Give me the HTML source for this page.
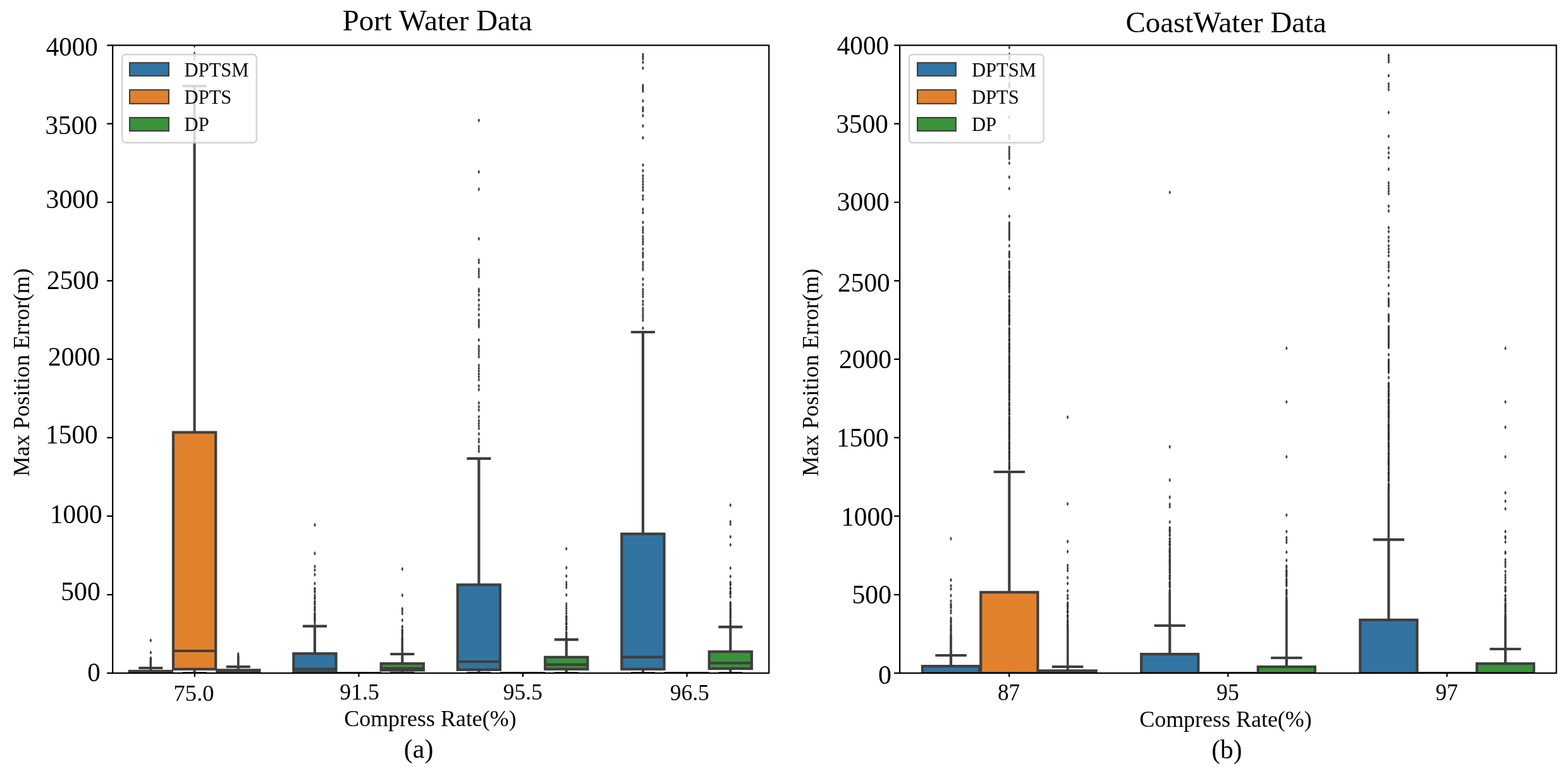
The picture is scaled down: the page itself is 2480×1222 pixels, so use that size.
<!DOCTYPE html>
<html lang="en"><head><meta charset="utf-8"><title>Max Position Error vs Compress Rate</title>
<style>html,body{margin:0;padding:0;background:#fff}svg{display:block}text{font-family:"Liberation Serif", "DejaVu Serif", serif;fill:#000}</style>
</head><body>
<svg xmlns="http://www.w3.org/2000/svg" width="2480" height="1222" viewBox="0 0 2480 1222">
<rect width="2480" height="1222" fill="#fff"/>
<g id="axes-a">
<clipPath id="clipA"><rect x="178.2" y="71.6" width="1038" height="992.5"/></clipPath>
<g clip-path="url(#clipA)">
<g stroke="#3f3f3f" stroke-width="4.17" stroke-linejoin="miter">
<rect x="204.79" y="1061" width="67.22" height="2.8" fill="#3274a1"/>
<rect x="273.99" y="683.5" width="67.22" height="374.3" fill="#e1812c"/>
<rect x="343.19" y="1059.3" width="67.22" height="4.5" fill="#3a923a"/>
<rect x="464.29" y="1033.2" width="67.22" height="29" fill="#3274a1"/>
<rect x="533.49" y="1064.1" width="67.22" height="0.01" fill="#e1812c"/>
<rect x="602.69" y="1049" width="67.22" height="10.6" fill="#3a923a"/>
<rect x="723.79" y="924.4" width="67.22" height="134.4" fill="#3274a1"/>
<rect x="792.99" y="1064.1" width="67.22" height="0.01" fill="#e1812c"/>
<rect x="862.19" y="1038.9" width="67.22" height="18.9" fill="#3a923a"/>
<rect x="983.29" y="844" width="67.22" height="213.8" fill="#3274a1"/>
<rect x="1052.49" y="1064.1" width="67.22" height="0.01" fill="#e1812c"/>
<rect x="1121.69" y="1030.2" width="67.22" height="26.8" fill="#3a923a"/>
</g>
<g stroke="#3f3f3f" stroke-width="4.17" fill="none">
<path d="M238.4 1063.8V1064.1M238.4 1061V1056"/>
<path stroke-linecap="square" d="M221.45 1064.1H255.35M221.45 1056H255.35"/>
<path d="M204.79 1062.6H272.01"/>
<path d="M307.6 1057.8V1064.1M307.6 683.5V136"/>
<path stroke-linecap="square" d="M290.65 1064.1H324.55M290.65 136H324.55"/>
<path d="M273.99 1029H341.21"/>
<path d="M376.8 1063.8V1064.1M376.8 1059.3V1054"/>
<path stroke-linecap="square" d="M359.85 1064.1H393.75M359.85 1054H393.75"/>
<path d="M343.19 1062H410.41"/>
<path d="M497.9 1062.2V1064.1M497.9 1033.2V989.9"/>
<path stroke-linecap="square" d="M480.95 1064.1H514.85M480.95 989.9H514.85"/>
<path d="M464.29 1057.5H531.51"/>
<path d="M567.1 1064.1V1064.1M567.1 1064.1V1064.1"/>
<path stroke-linecap="square" d="M550.15 1064.1H584.05M550.15 1064.1H584.05"/>
<path d="M533.49 1064.1H600.71"/>
<path d="M636.3 1059.6V1064.1M636.3 1049V1034"/>
<path stroke-linecap="square" d="M619.35 1064.1H653.25M619.35 1034H653.25"/>
<path d="M602.69 1056.5H669.91"/>
<path d="M757.4 1058.8V1064.1M757.4 924.4V724.9"/>
<path stroke-linecap="square" d="M740.45 1064.1H774.35M740.45 724.9H774.35"/>
<path d="M723.79 1046H791.01"/>
<path d="M826.6 1064.1V1064.1M826.6 1064.1V1064.1"/>
<path stroke-linecap="square" d="M809.65 1064.1H843.55M809.65 1064.1H843.55"/>
<path d="M792.99 1064.1H860.21"/>
<path d="M895.8 1057.8V1064.1M895.8 1038.9V1011.1"/>
<path stroke-linecap="square" d="M878.85 1064.1H912.75M878.85 1011.1H912.75"/>
<path d="M862.19 1050.7H929.41"/>
<path d="M1016.9 1057.8V1064.1M1016.9 844V525"/>
<path stroke-linecap="square" d="M999.95 1064.1H1033.85M999.95 525H1033.85"/>
<path d="M983.29 1038.8H1050.51"/>
<path d="M1086.1 1064.1V1064.1M1086.1 1064.1V1064.1"/>
<path stroke-linecap="square" d="M1069.15 1064.1H1103.05M1069.15 1064.1H1103.05"/>
<path d="M1052.49 1064.1H1119.71"/>
<path d="M1155.3 1057V1064.1M1155.3 1030.2V991.1"/>
<path stroke-linecap="square" d="M1138.35 1064.1H1172.25M1138.35 991.1H1172.25"/>
<path d="M1121.69 1048.2H1188.91"/>
</g>
<g stroke="#333" stroke-width="1.3" fill="none" stroke-linejoin="miter">
<path d="M238.4 1010.4l1.05 2l-1.05 2l-1.05 -2zM238.4 1029.6l1.05 2l-1.05 2l-1.05 -2zM238.4 1038.2l1.05 2l-1.05 2l-1.05 -2zM238.4 1039.7l1.05 2l-1.05 2l-1.05 -2zM238.4 1040l1.05 2l-1.05 2l-1.05 -2zM238.4 1040.3l1.05 2l-1.05 2l-1.05 -2zM238.4 1041.6l1.05 2l-1.05 2l-1.05 -2zM238.4 1043.4l1.05 2l-1.05 2l-1.05 -2zM238.4 1043.7l1.05 2l-1.05 2l-1.05 -2zM238.4 1044l1.05 2l-1.05 2l-1.05 -2zM238.4 1044.9l1.05 2l-1.05 2l-1.05 -2zM238.4 1045.8l1.05 2l-1.05 2l-1.05 -2zM238.4 1046.7l1.05 2l-1.05 2l-1.05 -2zM238.4 1047.6l1.05 2l-1.05 2l-1.05 -2zM238.4 1048.5l1.05 2l-1.05 2l-1.05 -2zM238.4 1049.4l1.05 2l-1.05 2l-1.05 -2zM238.4 1050.3l1.05 2l-1.05 2l-1.05 -2zM238.4 1051.2l1.05 2l-1.05 2l-1.05 -2z"/>
<path d="M307.6 70.6l1.05 2l-1.05 2l-1.05 -2zM307.6 82.5l1.05 2l-1.05 2l-1.05 -2zM307.6 87l1.05 2l-1.05 2l-1.05 -2zM307.6 91.5l1.05 2l-1.05 2l-1.05 -2z"/>
<path d="M376.8 1031.7l1.05 2l-1.05 2l-1.05 -2zM376.8 1033.9l1.05 2l-1.05 2l-1.05 -2zM376.8 1034.2l1.05 2l-1.05 2l-1.05 -2zM376.8 1034.5l1.05 2l-1.05 2l-1.05 -2zM376.8 1034.9l1.05 2l-1.05 2l-1.05 -2zM376.8 1035.3l1.05 2l-1.05 2l-1.05 -2zM376.8 1036.1l1.05 2l-1.05 2l-1.05 -2zM376.8 1036.4l1.05 2l-1.05 2l-1.05 -2zM376.8 1036.7l1.05 2l-1.05 2l-1.05 -2zM376.8 1037l1.05 2l-1.05 2l-1.05 -2zM376.8 1037.3l1.05 2l-1.05 2l-1.05 -2zM376.8 1037.6l1.05 2l-1.05 2l-1.05 -2zM376.8 1038l1.05 2l-1.05 2l-1.05 -2zM376.8 1038.9l1.05 2l-1.05 2l-1.05 -2zM376.8 1039.8l1.05 2l-1.05 2l-1.05 -2zM376.8 1040.7l1.05 2l-1.05 2l-1.05 -2zM376.8 1041.6l1.05 2l-1.05 2l-1.05 -2zM376.8 1042.5l1.05 2l-1.05 2l-1.05 -2zM376.8 1043.4l1.05 2l-1.05 2l-1.05 -2zM376.8 1044.3l1.05 2l-1.05 2l-1.05 -2zM376.8 1045.2l1.05 2l-1.05 2l-1.05 -2zM376.8 1046.1l1.05 2l-1.05 2l-1.05 -2zM376.8 1047l1.05 2l-1.05 2l-1.05 -2zM376.8 1047.9l1.05 2l-1.05 2l-1.05 -2zM376.8 1048.8l1.05 2l-1.05 2l-1.05 -2zM376.8 1049.7l1.05 2l-1.05 2l-1.05 -2z"/>
<path d="M497.9 827.9l1.05 2l-1.05 2l-1.05 -2zM497.9 872.8l1.05 2l-1.05 2l-1.05 -2zM497.9 893.5l1.05 2l-1.05 2l-1.05 -2zM497.9 899.1l1.05 2l-1.05 2l-1.05 -2zM497.9 906.4l1.05 2l-1.05 2l-1.05 -2zM497.9 920.5l1.05 2l-1.05 2l-1.05 -2zM497.9 928.4l1.05 2l-1.05 2l-1.05 -2zM497.9 930.4l1.05 2l-1.05 2l-1.05 -2zM497.9 932.9l1.05 2l-1.05 2l-1.05 -2zM497.9 933.8l1.05 2l-1.05 2l-1.05 -2zM497.9 938.9l1.05 2l-1.05 2l-1.05 -2zM497.9 942l1.05 2l-1.05 2l-1.05 -2zM497.9 942.5l1.05 2l-1.05 2l-1.05 -2zM497.9 944.5l1.05 2l-1.05 2l-1.05 -2zM497.9 948.8l1.05 2l-1.05 2l-1.05 -2zM497.9 949.4l1.05 2l-1.05 2l-1.05 -2zM497.9 950.1l1.05 2l-1.05 2l-1.05 -2zM497.9 952.6l1.05 2l-1.05 2l-1.05 -2zM497.9 953.6l1.05 2l-1.05 2l-1.05 -2zM497.9 957.2l1.05 2l-1.05 2l-1.05 -2zM497.9 958.7l1.05 2l-1.05 2l-1.05 -2zM497.9 960.9l1.05 2l-1.05 2l-1.05 -2zM497.9 962.3l1.05 2l-1.05 2l-1.05 -2zM497.9 962.8l1.05 2l-1.05 2l-1.05 -2zM497.9 963.3l1.05 2l-1.05 2l-1.05 -2zM497.9 967.2l1.05 2l-1.05 2l-1.05 -2zM497.9 968.6l1.05 2l-1.05 2l-1.05 -2zM497.9 969.2l1.05 2l-1.05 2l-1.05 -2zM497.9 969.5l1.05 2l-1.05 2l-1.05 -2zM497.9 970.1l1.05 2l-1.05 2l-1.05 -2zM497.9 971.6l1.05 2l-1.05 2l-1.05 -2zM497.9 972l1.05 2l-1.05 2l-1.05 -2zM497.9 973.1l1.05 2l-1.05 2l-1.05 -2zM497.9 974l1.05 2l-1.05 2l-1.05 -2zM497.9 975.2l1.05 2l-1.05 2l-1.05 -2zM497.9 975.5l1.05 2l-1.05 2l-1.05 -2zM497.9 976.5l1.05 2l-1.05 2l-1.05 -2zM497.9 977.6l1.05 2l-1.05 2l-1.05 -2zM497.9 978.7l1.05 2l-1.05 2l-1.05 -2zM497.9 979.9l1.05 2l-1.05 2l-1.05 -2zM497.9 981l1.05 2l-1.05 2l-1.05 -2zM497.9 984.2l1.05 2l-1.05 2l-1.05 -2z"/>
<path d="M636.3 897.5l1.05 2l-1.05 2l-1.05 -2zM636.3 939l1.05 2l-1.05 2l-1.05 -2zM636.3 960.5l1.05 2l-1.05 2l-1.05 -2zM636.3 964l1.05 2l-1.05 2l-1.05 -2zM636.3 967.8l1.05 2l-1.05 2l-1.05 -2zM636.3 978.6l1.05 2l-1.05 2l-1.05 -2zM636.3 988.5l1.05 2l-1.05 2l-1.05 -2zM636.3 989.6l1.05 2l-1.05 2l-1.05 -2zM636.3 993.6l1.05 2l-1.05 2l-1.05 -2zM636.3 994l1.05 2l-1.05 2l-1.05 -2zM636.3 994.5l1.05 2l-1.05 2l-1.05 -2zM636.3 996.4l1.05 2l-1.05 2l-1.05 -2zM636.3 997.9l1.05 2l-1.05 2l-1.05 -2zM636.3 998.6l1.05 2l-1.05 2l-1.05 -2zM636.3 998.9l1.05 2l-1.05 2l-1.05 -2zM636.3 1000.5l1.05 2l-1.05 2l-1.05 -2zM636.3 1003.2l1.05 2l-1.05 2l-1.05 -2zM636.3 1005.5l1.05 2l-1.05 2l-1.05 -2zM636.3 1006.8l1.05 2l-1.05 2l-1.05 -2zM636.3 1008l1.05 2l-1.05 2l-1.05 -2zM636.3 1008.9l1.05 2l-1.05 2l-1.05 -2zM636.3 1009.8l1.05 2l-1.05 2l-1.05 -2zM636.3 1010.7l1.05 2l-1.05 2l-1.05 -2zM636.3 1011.6l1.05 2l-1.05 2l-1.05 -2zM636.3 1012.5l1.05 2l-1.05 2l-1.05 -2zM636.3 1013.4l1.05 2l-1.05 2l-1.05 -2zM636.3 1014.3l1.05 2l-1.05 2l-1.05 -2zM636.3 1015.2l1.05 2l-1.05 2l-1.05 -2zM636.3 1016.1l1.05 2l-1.05 2l-1.05 -2zM636.3 1017l1.05 2l-1.05 2l-1.05 -2zM636.3 1017.9l1.05 2l-1.05 2l-1.05 -2zM636.3 1018.8l1.05 2l-1.05 2l-1.05 -2zM636.3 1019.7l1.05 2l-1.05 2l-1.05 -2zM636.3 1020.6l1.05 2l-1.05 2l-1.05 -2zM636.3 1021.5l1.05 2l-1.05 2l-1.05 -2zM636.3 1022.4l1.05 2l-1.05 2l-1.05 -2zM636.3 1023.3l1.05 2l-1.05 2l-1.05 -2zM636.3 1024.2l1.05 2l-1.05 2l-1.05 -2zM636.3 1025.1l1.05 2l-1.05 2l-1.05 -2zM636.3 1026l1.05 2l-1.05 2l-1.05 -2zM636.3 1026.9l1.05 2l-1.05 2l-1.05 -2zM636.3 1027.8l1.05 2l-1.05 2l-1.05 -2zM636.3 1028.7l1.05 2l-1.05 2l-1.05 -2zM636.3 1029.6l1.05 2l-1.05 2l-1.05 -2z"/>
<path d="M757.4 188.3l1.05 2l-1.05 2l-1.05 -2zM757.4 269.7l1.05 2l-1.05 2l-1.05 -2zM757.4 297.2l1.05 2l-1.05 2l-1.05 -2zM757.4 375.4l1.05 2l-1.05 2l-1.05 -2zM757.4 409.2l1.05 2l-1.05 2l-1.05 -2zM757.4 412.9l1.05 2l-1.05 2l-1.05 -2zM757.4 423.7l1.05 2l-1.05 2l-1.05 -2zM757.4 427.5l1.05 2l-1.05 2l-1.05 -2zM757.4 431.5l1.05 2l-1.05 2l-1.05 -2zM757.4 435.5l1.05 2l-1.05 2l-1.05 -2zM757.4 455.5l1.05 2l-1.05 2l-1.05 -2zM757.4 458.5l1.05 2l-1.05 2l-1.05 -2zM757.4 464.3l1.05 2l-1.05 2l-1.05 -2zM757.4 472.3l1.05 2l-1.05 2l-1.05 -2zM757.4 480.5l1.05 2l-1.05 2l-1.05 -2zM757.4 486.8l1.05 2l-1.05 2l-1.05 -2zM757.4 495.6l1.05 2l-1.05 2l-1.05 -2zM757.4 504.3l1.05 2l-1.05 2l-1.05 -2zM757.4 507.5l1.05 2l-1.05 2l-1.05 -2zM757.4 511l1.05 2l-1.05 2l-1.05 -2zM757.4 514.3l1.05 2l-1.05 2l-1.05 -2zM757.4 535.6l1.05 2l-1.05 2l-1.05 -2zM757.4 545.6l1.05 2l-1.05 2l-1.05 -2zM757.4 549.5l1.05 2l-1.05 2l-1.05 -2zM757.4 553.5l1.05 2l-1.05 2l-1.05 -2zM757.4 557.5l1.05 2l-1.05 2l-1.05 -2zM757.4 561.9l1.05 2l-1.05 2l-1.05 -2zM757.4 575.7l1.05 2l-1.05 2l-1.05 -2zM757.4 580l1.05 2l-1.05 2l-1.05 -2zM757.4 584.5l1.05 2l-1.05 2l-1.05 -2zM757.4 589l1.05 2l-1.05 2l-1.05 -2zM757.4 593.5l1.05 2l-1.05 2l-1.05 -2zM757.4 598.2l1.05 2l-1.05 2l-1.05 -2zM757.4 608.2l1.05 2l-1.05 2l-1.05 -2zM757.4 613.8l1.05 2l-1.05 2l-1.05 -2zM757.4 635l1.05 2l-1.05 2l-1.05 -2zM757.4 641.3l1.05 2l-1.05 2l-1.05 -2zM757.4 646.3l1.05 2l-1.05 2l-1.05 -2zM757.4 657.1l1.05 2l-1.05 2l-1.05 -2zM757.4 663.1l1.05 2l-1.05 2l-1.05 -2zM757.4 667l1.05 2l-1.05 2l-1.05 -2zM757.4 671l1.05 2l-1.05 2l-1.05 -2zM757.4 675.1l1.05 2l-1.05 2l-1.05 -2zM757.4 683.9l1.05 2l-1.05 2l-1.05 -2zM757.4 692.6l1.05 2l-1.05 2l-1.05 -2zM757.4 696.4l1.05 2l-1.05 2l-1.05 -2zM757.4 703.9l1.05 2l-1.05 2l-1.05 -2zM757.4 707.5l1.05 2l-1.05 2l-1.05 -2zM757.4 711.4l1.05 2l-1.05 2l-1.05 -2z"/>
<path d="M895.8 865.4l1.05 2l-1.05 2l-1.05 -2zM895.8 895.5l1.05 2l-1.05 2l-1.05 -2zM895.8 908.7l1.05 2l-1.05 2l-1.05 -2zM895.8 919l1.05 2l-1.05 2l-1.05 -2zM895.8 922.5l1.05 2l-1.05 2l-1.05 -2zM895.8 926.5l1.05 2l-1.05 2l-1.05 -2zM895.8 938.5l1.05 2l-1.05 2l-1.05 -2zM895.8 952.8l1.05 2l-1.05 2l-1.05 -2zM895.8 956.5l1.05 2l-1.05 2l-1.05 -2zM895.8 960l1.05 2l-1.05 2l-1.05 -2zM895.8 964l1.05 2l-1.05 2l-1.05 -2zM895.8 967.8l1.05 2l-1.05 2l-1.05 -2zM895.8 971.9l1.05 2l-1.05 2l-1.05 -2zM895.8 972.4l1.05 2l-1.05 2l-1.05 -2zM895.8 974.1l1.05 2l-1.05 2l-1.05 -2zM895.8 975.2l1.05 2l-1.05 2l-1.05 -2zM895.8 976.8l1.05 2l-1.05 2l-1.05 -2zM895.8 978.4l1.05 2l-1.05 2l-1.05 -2zM895.8 978.7l1.05 2l-1.05 2l-1.05 -2zM895.8 981.9l1.05 2l-1.05 2l-1.05 -2zM895.8 982.5l1.05 2l-1.05 2l-1.05 -2zM895.8 983.3l1.05 2l-1.05 2l-1.05 -2zM895.8 984.1l1.05 2l-1.05 2l-1.05 -2zM895.8 984.4l1.05 2l-1.05 2l-1.05 -2zM895.8 984.7l1.05 2l-1.05 2l-1.05 -2zM895.8 985.7l1.05 2l-1.05 2l-1.05 -2zM895.8 988.9l1.05 2l-1.05 2l-1.05 -2zM895.8 989.2l1.05 2l-1.05 2l-1.05 -2zM895.8 989.6l1.05 2l-1.05 2l-1.05 -2zM895.8 989.9l1.05 2l-1.05 2l-1.05 -2zM895.8 992.6l1.05 2l-1.05 2l-1.05 -2zM895.8 993.6l1.05 2l-1.05 2l-1.05 -2zM895.8 997.5l1.05 2l-1.05 2l-1.05 -2zM895.8 997.8l1.05 2l-1.05 2l-1.05 -2zM895.8 998.5l1.05 2l-1.05 2l-1.05 -2zM895.8 1000l1.05 2l-1.05 2l-1.05 -2zM895.8 1001.6l1.05 2l-1.05 2l-1.05 -2zM895.8 1002.8l1.05 2l-1.05 2l-1.05 -2zM895.8 1004.4l1.05 2l-1.05 2l-1.05 -2zM895.8 1004.9l1.05 2l-1.05 2l-1.05 -2zM895.8 1006.9l1.05 2l-1.05 2l-1.05 -2z"/>
<path d="M1016.9 84.4l1.05 2l-1.05 2l-1.05 -2zM1016.9 87.5l1.05 2l-1.05 2l-1.05 -2zM1016.9 90.7l1.05 2l-1.05 2l-1.05 -2zM1016.9 96.4l1.05 2l-1.05 2l-1.05 -2zM1016.9 105.7l1.05 2l-1.05 2l-1.05 -2zM1016.9 133.2l1.05 2l-1.05 2l-1.05 -2zM1016.9 136l1.05 2l-1.05 2l-1.05 -2zM1016.9 139l1.05 2l-1.05 2l-1.05 -2zM1016.9 142l1.05 2l-1.05 2l-1.05 -2zM1016.9 157.5l1.05 2l-1.05 2l-1.05 -2zM1016.9 168.3l1.05 2l-1.05 2l-1.05 -2zM1016.9 170.8l1.05 2l-1.05 2l-1.05 -2zM1016.9 173.3l1.05 2l-1.05 2l-1.05 -2zM1016.9 180.8l1.05 2l-1.05 2l-1.05 -2zM1016.9 197.1l1.05 2l-1.05 2l-1.05 -2zM1016.9 215.9l1.05 2l-1.05 2l-1.05 -2zM1016.9 258.9l1.05 2l-1.05 2l-1.05 -2zM1016.9 267.9l1.05 2l-1.05 2l-1.05 -2zM1016.9 276l1.05 2l-1.05 2l-1.05 -2zM1016.9 280.5l1.05 2l-1.05 2l-1.05 -2zM1016.9 285l1.05 2l-1.05 2l-1.05 -2zM1016.9 289.5l1.05 2l-1.05 2l-1.05 -2zM1016.9 294l1.05 2l-1.05 2l-1.05 -2zM1016.9 298.5l1.05 2l-1.05 2l-1.05 -2zM1016.9 307.8l1.05 2l-1.05 2l-1.05 -2zM1016.9 312.8l1.05 2l-1.05 2l-1.05 -2zM1016.9 329l1.05 2l-1.05 2l-1.05 -2zM1016.9 334l1.05 2l-1.05 2l-1.05 -2zM1016.9 349.6l1.05 2l-1.05 2l-1.05 -2zM1016.9 357.8l1.05 2l-1.05 2l-1.05 -2zM1016.9 361.5l1.05 2l-1.05 2l-1.05 -2zM1016.9 365.3l1.05 2l-1.05 2l-1.05 -2zM1016.9 372.1l1.05 2l-1.05 2l-1.05 -2zM1016.9 376l1.05 2l-1.05 2l-1.05 -2zM1016.9 380l1.05 2l-1.05 2l-1.05 -2zM1016.9 383.6l1.05 2l-1.05 2l-1.05 -2zM1016.9 391.6l1.05 2l-1.05 2l-1.05 -2zM1016.9 397.9l1.05 2l-1.05 2l-1.05 -2zM1016.9 401l1.05 2l-1.05 2l-1.05 -2zM1016.9 404.2l1.05 2l-1.05 2l-1.05 -2zM1016.9 412.9l1.05 2l-1.05 2l-1.05 -2zM1016.9 416.5l1.05 2l-1.05 2l-1.05 -2zM1016.9 420.5l1.05 2l-1.05 2l-1.05 -2zM1016.9 424.2l1.05 2l-1.05 2l-1.05 -2zM1016.9 439.2l1.05 2l-1.05 2l-1.05 -2zM1016.9 448l1.05 2l-1.05 2l-1.05 -2zM1016.9 455.5l1.05 2l-1.05 2l-1.05 -2zM1016.9 459.2l1.05 2l-1.05 2l-1.05 -2zM1016.9 463l1.05 2l-1.05 2l-1.05 -2zM1016.9 466.8l1.05 2l-1.05 2l-1.05 -2zM1016.9 474.3l1.05 2l-1.05 2l-1.05 -2zM1016.9 479.3l1.05 2l-1.05 2l-1.05 -2zM1016.9 485.5l1.05 2l-1.05 2l-1.05 -2zM1016.9 489.2l1.05 2l-1.05 2l-1.05 -2zM1016.9 493l1.05 2l-1.05 2l-1.05 -2zM1016.9 496.8l1.05 2l-1.05 2l-1.05 -2zM1016.9 500.5l1.05 2l-1.05 2l-1.05 -2zM1016.9 504.3l1.05 2l-1.05 2l-1.05 -2zM1016.9 516.8l1.05 2l-1.05 2l-1.05 -2z"/>
<path d="M1155.3 796.6l1.05 2l-1.05 2l-1.05 -2zM1155.3 822.8l1.05 2l-1.05 2l-1.05 -2zM1155.3 826.6l1.05 2l-1.05 2l-1.05 -2zM1155.3 846.6l1.05 2l-1.05 2l-1.05 -2zM1155.3 859.3l1.05 2l-1.05 2l-1.05 -2zM1155.3 896.2l1.05 2l-1.05 2l-1.05 -2zM1155.3 909.3l1.05 2l-1.05 2l-1.05 -2zM1155.3 918.9l1.05 2l-1.05 2l-1.05 -2zM1155.3 919.2l1.05 2l-1.05 2l-1.05 -2zM1155.3 921.6l1.05 2l-1.05 2l-1.05 -2zM1155.3 922l1.05 2l-1.05 2l-1.05 -2zM1155.3 922.7l1.05 2l-1.05 2l-1.05 -2zM1155.3 927.5l1.05 2l-1.05 2l-1.05 -2zM1155.3 928.5l1.05 2l-1.05 2l-1.05 -2zM1155.3 932.9l1.05 2l-1.05 2l-1.05 -2zM1155.3 934.5l1.05 2l-1.05 2l-1.05 -2zM1155.3 934.8l1.05 2l-1.05 2l-1.05 -2zM1155.3 936.4l1.05 2l-1.05 2l-1.05 -2zM1155.3 937.3l1.05 2l-1.05 2l-1.05 -2zM1155.3 941.3l1.05 2l-1.05 2l-1.05 -2zM1155.3 941.6l1.05 2l-1.05 2l-1.05 -2zM1155.3 950.6l1.05 2l-1.05 2l-1.05 -2zM1155.3 951.5l1.05 2l-1.05 2l-1.05 -2zM1155.3 952.9l1.05 2l-1.05 2l-1.05 -2zM1155.3 953.4l1.05 2l-1.05 2l-1.05 -2zM1155.3 955.4l1.05 2l-1.05 2l-1.05 -2zM1155.3 956.2l1.05 2l-1.05 2l-1.05 -2zM1155.3 957.2l1.05 2l-1.05 2l-1.05 -2zM1155.3 959.7l1.05 2l-1.05 2l-1.05 -2zM1155.3 960l1.05 2l-1.05 2l-1.05 -2zM1155.3 960.4l1.05 2l-1.05 2l-1.05 -2zM1155.3 960.9l1.05 2l-1.05 2l-1.05 -2zM1155.3 961.2l1.05 2l-1.05 2l-1.05 -2zM1155.3 962.8l1.05 2l-1.05 2l-1.05 -2zM1155.3 963.4l1.05 2l-1.05 2l-1.05 -2zM1155.3 964.8l1.05 2l-1.05 2l-1.05 -2zM1155.3 966.6l1.05 2l-1.05 2l-1.05 -2zM1155.3 967.3l1.05 2l-1.05 2l-1.05 -2zM1155.3 968.6l1.05 2l-1.05 2l-1.05 -2zM1155.3 969.3l1.05 2l-1.05 2l-1.05 -2zM1155.3 969.6l1.05 2l-1.05 2l-1.05 -2zM1155.3 969.9l1.05 2l-1.05 2l-1.05 -2zM1155.3 972l1.05 2l-1.05 2l-1.05 -2zM1155.3 972.5l1.05 2l-1.05 2l-1.05 -2zM1155.3 973.3l1.05 2l-1.05 2l-1.05 -2zM1155.3 973.7l1.05 2l-1.05 2l-1.05 -2zM1155.3 975l1.05 2l-1.05 2l-1.05 -2zM1155.3 975.7l1.05 2l-1.05 2l-1.05 -2zM1155.3 978.4l1.05 2l-1.05 2l-1.05 -2zM1155.3 979.1l1.05 2l-1.05 2l-1.05 -2zM1155.3 980l1.05 2l-1.05 2l-1.05 -2zM1155.3 981.5l1.05 2l-1.05 2l-1.05 -2zM1155.3 983l1.05 2l-1.05 2l-1.05 -2zM1155.3 984.3l1.05 2l-1.05 2l-1.05 -2zM1155.3 985.9l1.05 2l-1.05 2l-1.05 -2zM1155.3 986.4l1.05 2l-1.05 2l-1.05 -2z"/>
</g>
<path d="M238.4 1044.5V1055.5M376.8 1038.5V1053.5M636.3 1008.5V1033.5" stroke="#3f3f3f" stroke-width="3.3" fill="none"/>
</g>
<path d="M178.2 1064.1H169.2M178.2 940.04H169.2M178.2 815.97H169.2M178.2 691.91H169.2M178.2 567.85H169.2M178.2 443.79H169.2M178.2 319.73H169.2M178.2 195.66H169.2M178.2 71.6H169.2M307.95 1064.1V1070M567.45 1064.1V1070M826.95 1064.1V1070M1086.45 1064.1V1070" stroke="#000" stroke-width="2.2" fill="none"/>
<rect x="178.2" y="71.6" width="1038" height="992.5" fill="none" stroke="#000" stroke-width="2.2"/>
<rect x="193.2" y="86.1" width="212.6" height="139.5" rx="5.5" ry="5.5" fill="#fff" fill-opacity="0.8" stroke="#ccc" stroke-opacity="0.8" stroke-width="2.6"/>
<rect x="205.05" y="99.19" width="61.9" height="20.72" fill="#3274a1" stroke="#3f3f3f" stroke-width="2.08"/>
<rect x="205.05" y="142.14" width="61.9" height="21.72" fill="#e1812c" stroke="#3f3f3f" stroke-width="2.08"/>
<rect x="205.05" y="185.94" width="61.9" height="21.02" fill="#3a923a" stroke="#3f3f3f" stroke-width="2.08"/>
<text transform="translate(291.6 121.1) scale(1 1)" font-size="30.56">DPTSM</text>
<text transform="translate(291.6 164.1) scale(1 1)" font-size="30.56">DPTS</text>
<text transform="translate(291.6 207.3) scale(1 1)" font-size="30.56">DP</text>
</g>
<g id="axes-b">
<clipPath id="clipB"><rect x="1423.1" y="71.6" width="1038.5" height="992.5"/></clipPath>
<g clip-path="url(#clipB)">
<g stroke="#3f3f3f" stroke-width="4.17" stroke-linejoin="miter">
<rect x="1458.94" y="1053.1" width="90.16" height="11" fill="#3274a1"/>
<rect x="1551.25" y="936.3" width="90.16" height="127.8" fill="#e1812c"/>
<rect x="1643.56" y="1060.3" width="90.16" height="3.8" fill="#3a923a"/>
<rect x="1805.11" y="1034.1" width="90.16" height="30" fill="#3274a1"/>
<rect x="1897.42" y="1064.1" width="90.16" height="0.01" fill="#e1812c"/>
<rect x="1989.73" y="1054.1" width="90.16" height="10" fill="#3a923a"/>
<rect x="2151.27" y="980" width="90.16" height="84.1" fill="#3274a1"/>
<rect x="2243.58" y="1064.1" width="90.16" height="0.01" fill="#e1812c"/>
<rect x="2335.9" y="1049.1" width="90.16" height="15" fill="#3a923a"/>
</g>
<g stroke="#3f3f3f" stroke-width="4.17" fill="none">
<path d="M1504.02 1064.1V1064.1M1504.02 1053.1V1036"/>
<path stroke-linecap="square" d="M1481.41 1064.1H1526.64M1481.41 1036H1526.64"/>
<path d="M1458.94 1064.1H1549.1"/>
<path d="M1596.33 1064.1V1064.1M1596.33 936.3V746"/>
<path stroke-linecap="square" d="M1573.72 1064.1H1618.95M1573.72 746H1618.95"/>
<path d="M1551.25 1064.1H1641.42"/>
<path d="M1688.64 1064.1V1064.1M1688.64 1060.3V1054"/>
<path stroke-linecap="square" d="M1666.03 1064.1H1711.26M1666.03 1054H1711.26"/>
<path d="M1643.56 1064.1H1733.73"/>
<path d="M1850.19 1064.1V1064.1M1850.19 1034.1V989"/>
<path stroke-linecap="square" d="M1827.57 1064.1H1872.81M1827.57 989H1872.81"/>
<path d="M1805.11 1064.1H1895.27"/>
<path d="M1942.5 1064.1V1064.1M1942.5 1064.1V1064.1"/>
<path stroke-linecap="square" d="M1919.88 1064.1H1965.12M1919.88 1064.1H1965.12"/>
<path d="M1897.42 1064.1H1987.58"/>
<path d="M2034.81 1064.1V1064.1M2034.81 1054.1V1040"/>
<path stroke-linecap="square" d="M2012.19 1064.1H2057.43M2012.19 1040H2057.43"/>
<path d="M1989.73 1064.1H2079.89"/>
<path d="M2196.36 1064.1V1064.1M2196.36 980V853.1"/>
<path stroke-linecap="square" d="M2173.74 1064.1H2218.97M2173.74 853.1H2218.97"/>
<path d="M2151.27 1064.1H2241.44"/>
<path d="M2288.67 1064.1V1064.1M2288.67 1064.1V1064.1"/>
<path stroke-linecap="square" d="M2266.05 1064.1H2311.28M2266.05 1064.1H2311.28"/>
<path d="M2243.58 1064.1H2333.75"/>
<path d="M2380.98 1064.1V1064.1M2380.98 1049.1V1026"/>
<path stroke-linecap="square" d="M2358.36 1064.1H2403.59M2358.36 1026H2403.59"/>
<path d="M2335.9 1064.1H2426.06"/>
</g>
<g stroke="#333" stroke-width="1.3" fill="none" stroke-linejoin="miter">
<path d="M1504.02 849.6l1.05 2l-1.05 2l-1.05 -2zM1504.02 914.9l1.05 2l-1.05 2l-1.05 -2zM1504.02 924.1l1.05 2l-1.05 2l-1.05 -2zM1504.02 929l1.05 2l-1.05 2l-1.05 -2zM1504.02 939.5l1.05 2l-1.05 2l-1.05 -2zM1504.02 948.3l1.05 2l-1.05 2l-1.05 -2zM1504.02 953.1l1.05 2l-1.05 2l-1.05 -2zM1504.02 955.3l1.05 2l-1.05 2l-1.05 -2zM1504.02 955.6l1.05 2l-1.05 2l-1.05 -2zM1504.02 957.2l1.05 2l-1.05 2l-1.05 -2zM1504.02 958.2l1.05 2l-1.05 2l-1.05 -2zM1504.02 962.9l1.05 2l-1.05 2l-1.05 -2zM1504.02 966.7l1.05 2l-1.05 2l-1.05 -2zM1504.02 975.4l1.05 2l-1.05 2l-1.05 -2zM1504.02 975.7l1.05 2l-1.05 2l-1.05 -2zM1504.02 976.1l1.05 2l-1.05 2l-1.05 -2zM1504.02 978.1l1.05 2l-1.05 2l-1.05 -2zM1504.02 978.4l1.05 2l-1.05 2l-1.05 -2zM1504.02 979.6l1.05 2l-1.05 2l-1.05 -2zM1504.02 980.8l1.05 2l-1.05 2l-1.05 -2zM1504.02 981.1l1.05 2l-1.05 2l-1.05 -2zM1504.02 982.8l1.05 2l-1.05 2l-1.05 -2zM1504.02 986.1l1.05 2l-1.05 2l-1.05 -2zM1504.02 986.4l1.05 2l-1.05 2l-1.05 -2zM1504.02 986.7l1.05 2l-1.05 2l-1.05 -2zM1504.02 988.5l1.05 2l-1.05 2l-1.05 -2zM1504.02 989l1.05 2l-1.05 2l-1.05 -2zM1504.02 989.7l1.05 2l-1.05 2l-1.05 -2zM1504.02 991l1.05 2l-1.05 2l-1.05 -2zM1504.02 992.5l1.05 2l-1.05 2l-1.05 -2zM1504.02 993l1.05 2l-1.05 2l-1.05 -2zM1504.02 993.3l1.05 2l-1.05 2l-1.05 -2zM1504.02 993.7l1.05 2l-1.05 2l-1.05 -2zM1504.02 994.6l1.05 2l-1.05 2l-1.05 -2zM1504.02 995.7l1.05 2l-1.05 2l-1.05 -2zM1504.02 996.6l1.05 2l-1.05 2l-1.05 -2zM1504.02 998.6l1.05 2l-1.05 2l-1.05 -2zM1504.02 999.2l1.05 2l-1.05 2l-1.05 -2zM1504.02 1001.6l1.05 2l-1.05 2l-1.05 -2zM1504.02 1002l1.05 2l-1.05 2l-1.05 -2zM1504.02 1002.3l1.05 2l-1.05 2l-1.05 -2zM1504.02 1003l1.05 2l-1.05 2l-1.05 -2zM1504.02 1003.9l1.05 2l-1.05 2l-1.05 -2zM1504.02 1004.8l1.05 2l-1.05 2l-1.05 -2zM1504.02 1005.7l1.05 2l-1.05 2l-1.05 -2zM1504.02 1006.6l1.05 2l-1.05 2l-1.05 -2zM1504.02 1007.5l1.05 2l-1.05 2l-1.05 -2zM1504.02 1008.4l1.05 2l-1.05 2l-1.05 -2zM1504.02 1009.3l1.05 2l-1.05 2l-1.05 -2zM1504.02 1010.2l1.05 2l-1.05 2l-1.05 -2zM1504.02 1011.1l1.05 2l-1.05 2l-1.05 -2zM1504.02 1012l1.05 2l-1.05 2l-1.05 -2zM1504.02 1012.9l1.05 2l-1.05 2l-1.05 -2zM1504.02 1013.8l1.05 2l-1.05 2l-1.05 -2zM1504.02 1014.7l1.05 2l-1.05 2l-1.05 -2zM1504.02 1015.6l1.05 2l-1.05 2l-1.05 -2zM1504.02 1016.5l1.05 2l-1.05 2l-1.05 -2zM1504.02 1017.4l1.05 2l-1.05 2l-1.05 -2zM1504.02 1018.3l1.05 2l-1.05 2l-1.05 -2zM1504.02 1019.2l1.05 2l-1.05 2l-1.05 -2zM1504.02 1020.1l1.05 2l-1.05 2l-1.05 -2zM1504.02 1021l1.05 2l-1.05 2l-1.05 -2zM1504.02 1021.9l1.05 2l-1.05 2l-1.05 -2zM1504.02 1022.8l1.05 2l-1.05 2l-1.05 -2zM1504.02 1023.7l1.05 2l-1.05 2l-1.05 -2zM1504.02 1024.6l1.05 2l-1.05 2l-1.05 -2zM1504.02 1025.5l1.05 2l-1.05 2l-1.05 -2zM1504.02 1026.4l1.05 2l-1.05 2l-1.05 -2zM1504.02 1027.3l1.05 2l-1.05 2l-1.05 -2zM1504.02 1028.2l1.05 2l-1.05 2l-1.05 -2zM1504.02 1029.1l1.05 2l-1.05 2l-1.05 -2zM1504.02 1030l1.05 2l-1.05 2l-1.05 -2zM1504.02 1030.9l1.05 2l-1.05 2l-1.05 -2zM1504.02 1031.8l1.05 2l-1.05 2l-1.05 -2z"/>
<path d="M1596.33 73.1l1.05 2l-1.05 2l-1.05 -2zM1596.33 83.6l1.05 2l-1.05 2l-1.05 -2zM1596.33 87.4l1.05 2l-1.05 2l-1.05 -2zM1596.33 91.1l1.05 2l-1.05 2l-1.05 -2zM1596.33 120.6l1.05 2l-1.05 2l-1.05 -2zM1596.33 130l1.05 2l-1.05 2l-1.05 -2zM1596.33 133.1l1.05 2l-1.05 2l-1.05 -2zM1596.33 136.2l1.05 2l-1.05 2l-1.05 -2zM1596.33 158.1l1.05 2l-1.05 2l-1.05 -2zM1596.33 183.2l1.05 2l-1.05 2l-1.05 -2zM1596.33 212.6l1.05 2l-1.05 2l-1.05 -2zM1596.33 217l1.05 2l-1.05 2l-1.05 -2zM1596.33 231l1.05 2l-1.05 2l-1.05 -2zM1596.33 234.5l1.05 2l-1.05 2l-1.05 -2zM1596.33 238l1.05 2l-1.05 2l-1.05 -2zM1596.33 241.5l1.05 2l-1.05 2l-1.05 -2zM1596.33 245l1.05 2l-1.05 2l-1.05 -2zM1596.33 248.5l1.05 2l-1.05 2l-1.05 -2zM1596.33 255.9l1.05 2l-1.05 2l-1.05 -2zM1596.33 278l1.05 2l-1.05 2l-1.05 -2zM1596.33 296l1.05 2l-1.05 2l-1.05 -2zM1596.33 339.8l1.05 2l-1.05 2l-1.05 -2zM1596.33 350.5l1.05 2l-1.05 2l-1.05 -2zM1596.33 353.1l1.05 2l-1.05 2l-1.05 -2zM1596.33 355.7l1.05 2l-1.05 2l-1.05 -2zM1596.33 358.3l1.05 2l-1.05 2l-1.05 -2zM1596.33 360.9l1.05 2l-1.05 2l-1.05 -2zM1596.33 363.5l1.05 2l-1.05 2l-1.05 -2zM1596.33 366.1l1.05 2l-1.05 2l-1.05 -2zM1596.33 368.7l1.05 2l-1.05 2l-1.05 -2zM1596.33 371.3l1.05 2l-1.05 2l-1.05 -2zM1596.33 373.9l1.05 2l-1.05 2l-1.05 -2zM1596.33 376.5l1.05 2l-1.05 2l-1.05 -2zM1596.33 386.6l1.05 2l-1.05 2l-1.05 -2zM1596.33 396.5l1.05 2l-1.05 2l-1.05 -2zM1596.33 399l1.05 2l-1.05 2l-1.05 -2zM1596.33 401.5l1.05 2l-1.05 2l-1.05 -2zM1596.33 404l1.05 2l-1.05 2l-1.05 -2zM1596.33 411.5l1.05 2l-1.05 2l-1.05 -2zM1596.33 414l1.05 2l-1.05 2l-1.05 -2zM1596.33 416.5l1.05 2l-1.05 2l-1.05 -2zM1596.33 419l1.05 2l-1.05 2l-1.05 -2zM1596.33 421.5l1.05 2l-1.05 2l-1.05 -2zM1596.33 427.2l1.05 2l-1.05 2l-1.05 -2zM1596.33 428.7l1.05 2l-1.05 2l-1.05 -2zM1596.33 430l1.05 2l-1.05 2l-1.05 -2zM1596.33 432.1l1.05 2l-1.05 2l-1.05 -2zM1596.33 434.6l1.05 2l-1.05 2l-1.05 -2zM1596.33 434.9l1.05 2l-1.05 2l-1.05 -2zM1596.33 435.2l1.05 2l-1.05 2l-1.05 -2zM1596.33 436l1.05 2l-1.05 2l-1.05 -2zM1596.33 436.6l1.05 2l-1.05 2l-1.05 -2zM1596.33 437.5l1.05 2l-1.05 2l-1.05 -2zM1596.33 439l1.05 2l-1.05 2l-1.05 -2zM1596.33 439.5l1.05 2l-1.05 2l-1.05 -2zM1596.33 441.3l1.05 2l-1.05 2l-1.05 -2zM1596.33 442.3l1.05 2l-1.05 2l-1.05 -2zM1596.33 443.3l1.05 2l-1.05 2l-1.05 -2zM1596.33 443.6l1.05 2l-1.05 2l-1.05 -2zM1596.33 444.6l1.05 2l-1.05 2l-1.05 -2zM1596.33 444.9l1.05 2l-1.05 2l-1.05 -2zM1596.33 446.9l1.05 2l-1.05 2l-1.05 -2zM1596.33 447.2l1.05 2l-1.05 2l-1.05 -2zM1596.33 449l1.05 2l-1.05 2l-1.05 -2zM1596.33 450.2l1.05 2l-1.05 2l-1.05 -2zM1596.33 451l1.05 2l-1.05 2l-1.05 -2zM1596.33 452.1l1.05 2l-1.05 2l-1.05 -2zM1596.33 454.8l1.05 2l-1.05 2l-1.05 -2zM1596.33 457.4l1.05 2l-1.05 2l-1.05 -2zM1596.33 459.9l1.05 2l-1.05 2l-1.05 -2zM1596.33 466.3l1.05 2l-1.05 2l-1.05 -2zM1596.33 467.3l1.05 2l-1.05 2l-1.05 -2zM1596.33 472.2l1.05 2l-1.05 2l-1.05 -2zM1596.33 472.5l1.05 2l-1.05 2l-1.05 -2zM1596.33 472.9l1.05 2l-1.05 2l-1.05 -2zM1596.33 473.2l1.05 2l-1.05 2l-1.05 -2zM1596.33 474.4l1.05 2l-1.05 2l-1.05 -2zM1596.33 476.2l1.05 2l-1.05 2l-1.05 -2zM1596.33 476.5l1.05 2l-1.05 2l-1.05 -2zM1596.33 478.4l1.05 2l-1.05 2l-1.05 -2zM1596.33 478.7l1.05 2l-1.05 2l-1.05 -2zM1596.33 480l1.05 2l-1.05 2l-1.05 -2zM1596.33 480.6l1.05 2l-1.05 2l-1.05 -2zM1596.33 481.9l1.05 2l-1.05 2l-1.05 -2zM1596.33 482.8l1.05 2l-1.05 2l-1.05 -2zM1596.33 483.8l1.05 2l-1.05 2l-1.05 -2zM1596.33 484.5l1.05 2l-1.05 2l-1.05 -2zM1596.33 484.8l1.05 2l-1.05 2l-1.05 -2zM1596.33 485.1l1.05 2l-1.05 2l-1.05 -2zM1596.33 485.6l1.05 2l-1.05 2l-1.05 -2zM1596.33 487.1l1.05 2l-1.05 2l-1.05 -2zM1596.33 487.9l1.05 2l-1.05 2l-1.05 -2zM1596.33 489.7l1.05 2l-1.05 2l-1.05 -2zM1596.33 490.1l1.05 2l-1.05 2l-1.05 -2zM1596.33 491.6l1.05 2l-1.05 2l-1.05 -2zM1596.33 495.1l1.05 2l-1.05 2l-1.05 -2zM1596.33 495.4l1.05 2l-1.05 2l-1.05 -2zM1596.33 496.1l1.05 2l-1.05 2l-1.05 -2zM1596.33 496.7l1.05 2l-1.05 2l-1.05 -2zM1596.33 497.4l1.05 2l-1.05 2l-1.05 -2zM1596.33 497.7l1.05 2l-1.05 2l-1.05 -2zM1596.33 498.5l1.05 2l-1.05 2l-1.05 -2zM1596.33 499.4l1.05 2l-1.05 2l-1.05 -2zM1596.33 501.7l1.05 2l-1.05 2l-1.05 -2zM1596.33 502.1l1.05 2l-1.05 2l-1.05 -2zM1596.33 503.4l1.05 2l-1.05 2l-1.05 -2zM1596.33 503.7l1.05 2l-1.05 2l-1.05 -2zM1596.33 504.8l1.05 2l-1.05 2l-1.05 -2zM1596.33 505.2l1.05 2l-1.05 2l-1.05 -2zM1596.33 505.9l1.05 2l-1.05 2l-1.05 -2zM1596.33 506.6l1.05 2l-1.05 2l-1.05 -2zM1596.33 506.9l1.05 2l-1.05 2l-1.05 -2zM1596.33 507.9l1.05 2l-1.05 2l-1.05 -2zM1596.33 508.5l1.05 2l-1.05 2l-1.05 -2zM1596.33 509.3l1.05 2l-1.05 2l-1.05 -2zM1596.33 511.2l1.05 2l-1.05 2l-1.05 -2zM1596.33 517l1.05 2l-1.05 2l-1.05 -2zM1596.33 517.6l1.05 2l-1.05 2l-1.05 -2zM1596.33 518l1.05 2l-1.05 2l-1.05 -2zM1596.33 519.2l1.05 2l-1.05 2l-1.05 -2zM1596.33 521.3l1.05 2l-1.05 2l-1.05 -2zM1596.33 521.6l1.05 2l-1.05 2l-1.05 -2zM1596.33 522l1.05 2l-1.05 2l-1.05 -2zM1596.33 523.9l1.05 2l-1.05 2l-1.05 -2zM1596.33 524.9l1.05 2l-1.05 2l-1.05 -2zM1596.33 525.2l1.05 2l-1.05 2l-1.05 -2zM1596.33 525.9l1.05 2l-1.05 2l-1.05 -2zM1596.33 528.4l1.05 2l-1.05 2l-1.05 -2zM1596.33 530l1.05 2l-1.05 2l-1.05 -2zM1596.33 533l1.05 2l-1.05 2l-1.05 -2zM1596.33 534.2l1.05 2l-1.05 2l-1.05 -2zM1596.33 534.8l1.05 2l-1.05 2l-1.05 -2zM1596.33 535.4l1.05 2l-1.05 2l-1.05 -2zM1596.33 536.7l1.05 2l-1.05 2l-1.05 -2zM1596.33 537l1.05 2l-1.05 2l-1.05 -2zM1596.33 540.5l1.05 2l-1.05 2l-1.05 -2zM1596.33 541.7l1.05 2l-1.05 2l-1.05 -2zM1596.33 543.1l1.05 2l-1.05 2l-1.05 -2zM1596.33 543.4l1.05 2l-1.05 2l-1.05 -2zM1596.33 543.7l1.05 2l-1.05 2l-1.05 -2zM1596.33 544.2l1.05 2l-1.05 2l-1.05 -2zM1596.33 546.2l1.05 2l-1.05 2l-1.05 -2zM1596.33 546.5l1.05 2l-1.05 2l-1.05 -2zM1596.33 546.9l1.05 2l-1.05 2l-1.05 -2zM1596.33 548l1.05 2l-1.05 2l-1.05 -2zM1596.33 548.5l1.05 2l-1.05 2l-1.05 -2zM1596.33 549.5l1.05 2l-1.05 2l-1.05 -2zM1596.33 549.8l1.05 2l-1.05 2l-1.05 -2zM1596.33 550.1l1.05 2l-1.05 2l-1.05 -2zM1596.33 551.9l1.05 2l-1.05 2l-1.05 -2zM1596.33 552.2l1.05 2l-1.05 2l-1.05 -2zM1596.33 553.1l1.05 2l-1.05 2l-1.05 -2zM1596.33 553.4l1.05 2l-1.05 2l-1.05 -2zM1596.33 553.7l1.05 2l-1.05 2l-1.05 -2zM1596.33 554l1.05 2l-1.05 2l-1.05 -2zM1596.33 556.6l1.05 2l-1.05 2l-1.05 -2zM1596.33 559.7l1.05 2l-1.05 2l-1.05 -2zM1596.33 560l1.05 2l-1.05 2l-1.05 -2zM1596.33 562.1l1.05 2l-1.05 2l-1.05 -2zM1596.33 562.8l1.05 2l-1.05 2l-1.05 -2zM1596.33 563.7l1.05 2l-1.05 2l-1.05 -2zM1596.33 564l1.05 2l-1.05 2l-1.05 -2zM1596.33 565.6l1.05 2l-1.05 2l-1.05 -2zM1596.33 566.1l1.05 2l-1.05 2l-1.05 -2zM1596.33 566.4l1.05 2l-1.05 2l-1.05 -2zM1596.33 567.1l1.05 2l-1.05 2l-1.05 -2zM1596.33 568.8l1.05 2l-1.05 2l-1.05 -2zM1596.33 569.6l1.05 2l-1.05 2l-1.05 -2zM1596.33 570.9l1.05 2l-1.05 2l-1.05 -2zM1596.33 573.2l1.05 2l-1.05 2l-1.05 -2zM1596.33 575.7l1.05 2l-1.05 2l-1.05 -2zM1596.33 576.1l1.05 2l-1.05 2l-1.05 -2zM1596.33 576.4l1.05 2l-1.05 2l-1.05 -2zM1596.33 576.8l1.05 2l-1.05 2l-1.05 -2zM1596.33 577.1l1.05 2l-1.05 2l-1.05 -2zM1596.33 577.4l1.05 2l-1.05 2l-1.05 -2zM1596.33 577.7l1.05 2l-1.05 2l-1.05 -2zM1596.33 578l1.05 2l-1.05 2l-1.05 -2zM1596.33 578.8l1.05 2l-1.05 2l-1.05 -2zM1596.33 579.3l1.05 2l-1.05 2l-1.05 -2zM1596.33 580.5l1.05 2l-1.05 2l-1.05 -2zM1596.33 581l1.05 2l-1.05 2l-1.05 -2zM1596.33 581.3l1.05 2l-1.05 2l-1.05 -2zM1596.33 581.6l1.05 2l-1.05 2l-1.05 -2zM1596.33 582.4l1.05 2l-1.05 2l-1.05 -2zM1596.33 583.5l1.05 2l-1.05 2l-1.05 -2zM1596.33 584l1.05 2l-1.05 2l-1.05 -2zM1596.33 585.6l1.05 2l-1.05 2l-1.05 -2zM1596.33 586.4l1.05 2l-1.05 2l-1.05 -2zM1596.33 587.5l1.05 2l-1.05 2l-1.05 -2zM1596.33 588.7l1.05 2l-1.05 2l-1.05 -2zM1596.33 590l1.05 2l-1.05 2l-1.05 -2zM1596.33 591l1.05 2l-1.05 2l-1.05 -2zM1596.33 592.3l1.05 2l-1.05 2l-1.05 -2zM1596.33 592.7l1.05 2l-1.05 2l-1.05 -2zM1596.33 593.2l1.05 2l-1.05 2l-1.05 -2zM1596.33 593.7l1.05 2l-1.05 2l-1.05 -2zM1596.33 595l1.05 2l-1.05 2l-1.05 -2zM1596.33 595.3l1.05 2l-1.05 2l-1.05 -2zM1596.33 595.9l1.05 2l-1.05 2l-1.05 -2zM1596.33 596.5l1.05 2l-1.05 2l-1.05 -2zM1596.33 598.9l1.05 2l-1.05 2l-1.05 -2zM1596.33 599.2l1.05 2l-1.05 2l-1.05 -2zM1596.33 601.3l1.05 2l-1.05 2l-1.05 -2zM1596.33 602.1l1.05 2l-1.05 2l-1.05 -2zM1596.33 603.1l1.05 2l-1.05 2l-1.05 -2zM1596.33 605.2l1.05 2l-1.05 2l-1.05 -2zM1596.33 605.5l1.05 2l-1.05 2l-1.05 -2zM1596.33 605.8l1.05 2l-1.05 2l-1.05 -2zM1596.33 606.1l1.05 2l-1.05 2l-1.05 -2zM1596.33 606.4l1.05 2l-1.05 2l-1.05 -2zM1596.33 606.7l1.05 2l-1.05 2l-1.05 -2zM1596.33 607.1l1.05 2l-1.05 2l-1.05 -2zM1596.33 609.1l1.05 2l-1.05 2l-1.05 -2zM1596.33 609.9l1.05 2l-1.05 2l-1.05 -2zM1596.33 610.3l1.05 2l-1.05 2l-1.05 -2zM1596.33 611.2l1.05 2l-1.05 2l-1.05 -2zM1596.33 612.8l1.05 2l-1.05 2l-1.05 -2zM1596.33 613.1l1.05 2l-1.05 2l-1.05 -2zM1596.33 613.6l1.05 2l-1.05 2l-1.05 -2zM1596.33 613.9l1.05 2l-1.05 2l-1.05 -2zM1596.33 614.9l1.05 2l-1.05 2l-1.05 -2zM1596.33 615.2l1.05 2l-1.05 2l-1.05 -2zM1596.33 615.7l1.05 2l-1.05 2l-1.05 -2zM1596.33 616.3l1.05 2l-1.05 2l-1.05 -2zM1596.33 616.6l1.05 2l-1.05 2l-1.05 -2zM1596.33 616.9l1.05 2l-1.05 2l-1.05 -2zM1596.33 617.2l1.05 2l-1.05 2l-1.05 -2zM1596.33 617.6l1.05 2l-1.05 2l-1.05 -2zM1596.33 618.6l1.05 2l-1.05 2l-1.05 -2zM1596.33 619.5l1.05 2l-1.05 2l-1.05 -2zM1596.33 621.4l1.05 2l-1.05 2l-1.05 -2zM1596.33 621.7l1.05 2l-1.05 2l-1.05 -2zM1596.33 623.7l1.05 2l-1.05 2l-1.05 -2zM1596.33 625l1.05 2l-1.05 2l-1.05 -2zM1596.33 626.4l1.05 2l-1.05 2l-1.05 -2zM1596.33 628.4l1.05 2l-1.05 2l-1.05 -2zM1596.33 629.1l1.05 2l-1.05 2l-1.05 -2zM1596.33 629.4l1.05 2l-1.05 2l-1.05 -2zM1596.33 629.8l1.05 2l-1.05 2l-1.05 -2zM1596.33 630.1l1.05 2l-1.05 2l-1.05 -2zM1596.33 630.6l1.05 2l-1.05 2l-1.05 -2zM1596.33 634.2l1.05 2l-1.05 2l-1.05 -2zM1596.33 634.5l1.05 2l-1.05 2l-1.05 -2zM1596.33 634.9l1.05 2l-1.05 2l-1.05 -2zM1596.33 635.9l1.05 2l-1.05 2l-1.05 -2zM1596.33 636.2l1.05 2l-1.05 2l-1.05 -2zM1596.33 636.6l1.05 2l-1.05 2l-1.05 -2zM1596.33 637.2l1.05 2l-1.05 2l-1.05 -2zM1596.33 637.5l1.05 2l-1.05 2l-1.05 -2zM1596.33 638.9l1.05 2l-1.05 2l-1.05 -2zM1596.33 639.6l1.05 2l-1.05 2l-1.05 -2zM1596.33 642.4l1.05 2l-1.05 2l-1.05 -2zM1596.33 644l1.05 2l-1.05 2l-1.05 -2zM1596.33 644.4l1.05 2l-1.05 2l-1.05 -2zM1596.33 645l1.05 2l-1.05 2l-1.05 -2zM1596.33 646.2l1.05 2l-1.05 2l-1.05 -2zM1596.33 646.5l1.05 2l-1.05 2l-1.05 -2zM1596.33 646.9l1.05 2l-1.05 2l-1.05 -2zM1596.33 647.4l1.05 2l-1.05 2l-1.05 -2zM1596.33 648.1l1.05 2l-1.05 2l-1.05 -2zM1596.33 650.8l1.05 2l-1.05 2l-1.05 -2zM1596.33 651.1l1.05 2l-1.05 2l-1.05 -2zM1596.33 651.5l1.05 2l-1.05 2l-1.05 -2zM1596.33 651.9l1.05 2l-1.05 2l-1.05 -2zM1596.33 653.4l1.05 2l-1.05 2l-1.05 -2zM1596.33 657.1l1.05 2l-1.05 2l-1.05 -2zM1596.33 658.3l1.05 2l-1.05 2l-1.05 -2zM1596.33 658.6l1.05 2l-1.05 2l-1.05 -2zM1596.33 659l1.05 2l-1.05 2l-1.05 -2zM1596.33 660.3l1.05 2l-1.05 2l-1.05 -2zM1596.33 661l1.05 2l-1.05 2l-1.05 -2zM1596.33 661.7l1.05 2l-1.05 2l-1.05 -2zM1596.33 662.4l1.05 2l-1.05 2l-1.05 -2zM1596.33 664.3l1.05 2l-1.05 2l-1.05 -2zM1596.33 665.2l1.05 2l-1.05 2l-1.05 -2zM1596.33 666.1l1.05 2l-1.05 2l-1.05 -2zM1596.33 666.7l1.05 2l-1.05 2l-1.05 -2zM1596.33 667l1.05 2l-1.05 2l-1.05 -2zM1596.33 667.4l1.05 2l-1.05 2l-1.05 -2zM1596.33 667.9l1.05 2l-1.05 2l-1.05 -2zM1596.33 668.5l1.05 2l-1.05 2l-1.05 -2zM1596.33 668.8l1.05 2l-1.05 2l-1.05 -2zM1596.33 669.4l1.05 2l-1.05 2l-1.05 -2zM1596.33 670.1l1.05 2l-1.05 2l-1.05 -2zM1596.33 671.8l1.05 2l-1.05 2l-1.05 -2zM1596.33 673.1l1.05 2l-1.05 2l-1.05 -2zM1596.33 673.4l1.05 2l-1.05 2l-1.05 -2zM1596.33 673.7l1.05 2l-1.05 2l-1.05 -2zM1596.33 675.4l1.05 2l-1.05 2l-1.05 -2zM1596.33 675.7l1.05 2l-1.05 2l-1.05 -2zM1596.33 676.2l1.05 2l-1.05 2l-1.05 -2zM1596.33 676.8l1.05 2l-1.05 2l-1.05 -2zM1596.33 677.3l1.05 2l-1.05 2l-1.05 -2zM1596.33 678.7l1.05 2l-1.05 2l-1.05 -2zM1596.33 679.8l1.05 2l-1.05 2l-1.05 -2zM1596.33 680.3l1.05 2l-1.05 2l-1.05 -2zM1596.33 680.6l1.05 2l-1.05 2l-1.05 -2zM1596.33 681.9l1.05 2l-1.05 2l-1.05 -2zM1596.33 683.5l1.05 2l-1.05 2l-1.05 -2zM1596.33 683.8l1.05 2l-1.05 2l-1.05 -2zM1596.33 684.6l1.05 2l-1.05 2l-1.05 -2zM1596.33 685.1l1.05 2l-1.05 2l-1.05 -2zM1596.33 685.6l1.05 2l-1.05 2l-1.05 -2zM1596.33 686.3l1.05 2l-1.05 2l-1.05 -2zM1596.33 687.4l1.05 2l-1.05 2l-1.05 -2zM1596.33 688.4l1.05 2l-1.05 2l-1.05 -2zM1596.33 688.7l1.05 2l-1.05 2l-1.05 -2zM1596.33 689.6l1.05 2l-1.05 2l-1.05 -2zM1596.33 690.9l1.05 2l-1.05 2l-1.05 -2zM1596.33 691.2l1.05 2l-1.05 2l-1.05 -2zM1596.33 691.5l1.05 2l-1.05 2l-1.05 -2zM1596.33 692.9l1.05 2l-1.05 2l-1.05 -2zM1596.33 693.2l1.05 2l-1.05 2l-1.05 -2zM1596.33 695.7l1.05 2l-1.05 2l-1.05 -2zM1596.33 696l1.05 2l-1.05 2l-1.05 -2zM1596.33 696.3l1.05 2l-1.05 2l-1.05 -2zM1596.33 696.6l1.05 2l-1.05 2l-1.05 -2zM1596.33 697.9l1.05 2l-1.05 2l-1.05 -2zM1596.33 698.3l1.05 2l-1.05 2l-1.05 -2zM1596.33 699.4l1.05 2l-1.05 2l-1.05 -2zM1596.33 699.7l1.05 2l-1.05 2l-1.05 -2zM1596.33 700l1.05 2l-1.05 2l-1.05 -2zM1596.33 700.6l1.05 2l-1.05 2l-1.05 -2zM1596.33 700.9l1.05 2l-1.05 2l-1.05 -2zM1596.33 701.2l1.05 2l-1.05 2l-1.05 -2zM1596.33 701.5l1.05 2l-1.05 2l-1.05 -2zM1596.33 703.5l1.05 2l-1.05 2l-1.05 -2zM1596.33 705l1.05 2l-1.05 2l-1.05 -2zM1596.33 705.3l1.05 2l-1.05 2l-1.05 -2zM1596.33 705.6l1.05 2l-1.05 2l-1.05 -2zM1596.33 705.9l1.05 2l-1.05 2l-1.05 -2zM1596.33 706.2l1.05 2l-1.05 2l-1.05 -2zM1596.33 706.6l1.05 2l-1.05 2l-1.05 -2zM1596.33 707.8l1.05 2l-1.05 2l-1.05 -2zM1596.33 708.2l1.05 2l-1.05 2l-1.05 -2zM1596.33 710.5l1.05 2l-1.05 2l-1.05 -2zM1596.33 711.2l1.05 2l-1.05 2l-1.05 -2zM1596.33 711.6l1.05 2l-1.05 2l-1.05 -2zM1596.33 711.9l1.05 2l-1.05 2l-1.05 -2zM1596.33 712.6l1.05 2l-1.05 2l-1.05 -2zM1596.33 712.9l1.05 2l-1.05 2l-1.05 -2zM1596.33 713.9l1.05 2l-1.05 2l-1.05 -2zM1596.33 714.2l1.05 2l-1.05 2l-1.05 -2zM1596.33 714.9l1.05 2l-1.05 2l-1.05 -2zM1596.33 715.4l1.05 2l-1.05 2l-1.05 -2zM1596.33 715.7l1.05 2l-1.05 2l-1.05 -2zM1596.33 716l1.05 2l-1.05 2l-1.05 -2zM1596.33 717.1l1.05 2l-1.05 2l-1.05 -2zM1596.33 718.4l1.05 2l-1.05 2l-1.05 -2zM1596.33 718.7l1.05 2l-1.05 2l-1.05 -2zM1596.33 720l1.05 2l-1.05 2l-1.05 -2zM1596.33 720.4l1.05 2l-1.05 2l-1.05 -2zM1596.33 720.7l1.05 2l-1.05 2l-1.05 -2zM1596.33 721l1.05 2l-1.05 2l-1.05 -2zM1596.33 721.7l1.05 2l-1.05 2l-1.05 -2zM1596.33 723l1.05 2l-1.05 2l-1.05 -2zM1596.33 723.3l1.05 2l-1.05 2l-1.05 -2zM1596.33 724.2l1.05 2l-1.05 2l-1.05 -2zM1596.33 725.2l1.05 2l-1.05 2l-1.05 -2zM1596.33 728.5l1.05 2l-1.05 2l-1.05 -2zM1596.33 729.9l1.05 2l-1.05 2l-1.05 -2zM1596.33 731.2l1.05 2l-1.05 2l-1.05 -2zM1596.33 731.7l1.05 2l-1.05 2l-1.05 -2zM1596.33 732l1.05 2l-1.05 2l-1.05 -2zM1596.33 734.4l1.05 2l-1.05 2l-1.05 -2zM1596.33 735l1.05 2l-1.05 2l-1.05 -2zM1596.33 735.3l1.05 2l-1.05 2l-1.05 -2zM1596.33 735.6l1.05 2l-1.05 2l-1.05 -2zM1596.33 735.9l1.05 2l-1.05 2l-1.05 -2zM1596.33 736.2l1.05 2l-1.05 2l-1.05 -2zM1596.33 736.5l1.05 2l-1.05 2l-1.05 -2zM1596.33 737l1.05 2l-1.05 2l-1.05 -2zM1596.33 737.9l1.05 2l-1.05 2l-1.05 -2zM1596.33 738.3l1.05 2l-1.05 2l-1.05 -2zM1596.33 739.7l1.05 2l-1.05 2l-1.05 -2z"/>
<path d="M1688.64 657.6l1.05 2l-1.05 2l-1.05 -2zM1688.64 794.6l1.05 2l-1.05 2l-1.05 -2zM1688.64 854.1l1.05 2l-1.05 2l-1.05 -2zM1688.64 870.1l1.05 2l-1.05 2l-1.05 -2zM1688.64 891.9l1.05 2l-1.05 2l-1.05 -2zM1688.64 895.9l1.05 2l-1.05 2l-1.05 -2zM1688.64 899.9l1.05 2l-1.05 2l-1.05 -2zM1688.64 911.2l1.05 2l-1.05 2l-1.05 -2zM1688.64 920.4l1.05 2l-1.05 2l-1.05 -2zM1688.64 932.2l1.05 2l-1.05 2l-1.05 -2zM1688.64 939.3l1.05 2l-1.05 2l-1.05 -2zM1688.64 939.6l1.05 2l-1.05 2l-1.05 -2zM1688.64 943.9l1.05 2l-1.05 2l-1.05 -2zM1688.64 944.2l1.05 2l-1.05 2l-1.05 -2zM1688.64 951.2l1.05 2l-1.05 2l-1.05 -2zM1688.64 951.5l1.05 2l-1.05 2l-1.05 -2zM1688.64 953l1.05 2l-1.05 2l-1.05 -2zM1688.64 953.3l1.05 2l-1.05 2l-1.05 -2zM1688.64 955.2l1.05 2l-1.05 2l-1.05 -2zM1688.64 955.9l1.05 2l-1.05 2l-1.05 -2zM1688.64 956.2l1.05 2l-1.05 2l-1.05 -2zM1688.64 957.1l1.05 2l-1.05 2l-1.05 -2zM1688.64 957.4l1.05 2l-1.05 2l-1.05 -2zM1688.64 960.1l1.05 2l-1.05 2l-1.05 -2zM1688.64 963.2l1.05 2l-1.05 2l-1.05 -2zM1688.64 964.2l1.05 2l-1.05 2l-1.05 -2zM1688.64 965.3l1.05 2l-1.05 2l-1.05 -2zM1688.64 965.6l1.05 2l-1.05 2l-1.05 -2zM1688.64 966.2l1.05 2l-1.05 2l-1.05 -2zM1688.64 970.2l1.05 2l-1.05 2l-1.05 -2zM1688.64 971.8l1.05 2l-1.05 2l-1.05 -2zM1688.64 972.1l1.05 2l-1.05 2l-1.05 -2zM1688.64 972.6l1.05 2l-1.05 2l-1.05 -2zM1688.64 973l1.05 2l-1.05 2l-1.05 -2zM1688.64 973.8l1.05 2l-1.05 2l-1.05 -2zM1688.64 977.6l1.05 2l-1.05 2l-1.05 -2zM1688.64 979.9l1.05 2l-1.05 2l-1.05 -2zM1688.64 981l1.05 2l-1.05 2l-1.05 -2zM1688.64 981.3l1.05 2l-1.05 2l-1.05 -2zM1688.64 981.6l1.05 2l-1.05 2l-1.05 -2zM1688.64 982.2l1.05 2l-1.05 2l-1.05 -2zM1688.64 984.1l1.05 2l-1.05 2l-1.05 -2zM1688.64 984.9l1.05 2l-1.05 2l-1.05 -2zM1688.64 985.2l1.05 2l-1.05 2l-1.05 -2zM1688.64 985.5l1.05 2l-1.05 2l-1.05 -2zM1688.64 986.1l1.05 2l-1.05 2l-1.05 -2zM1688.64 987l1.05 2l-1.05 2l-1.05 -2zM1688.64 987.8l1.05 2l-1.05 2l-1.05 -2zM1688.64 988.6l1.05 2l-1.05 2l-1.05 -2zM1688.64 988.9l1.05 2l-1.05 2l-1.05 -2zM1688.64 989.2l1.05 2l-1.05 2l-1.05 -2zM1688.64 990l1.05 2l-1.05 2l-1.05 -2zM1688.64 990.9l1.05 2l-1.05 2l-1.05 -2zM1688.64 991.8l1.05 2l-1.05 2l-1.05 -2zM1688.64 992.7l1.05 2l-1.05 2l-1.05 -2zM1688.64 993.6l1.05 2l-1.05 2l-1.05 -2zM1688.64 994.5l1.05 2l-1.05 2l-1.05 -2zM1688.64 995.4l1.05 2l-1.05 2l-1.05 -2zM1688.64 996.3l1.05 2l-1.05 2l-1.05 -2zM1688.64 997.2l1.05 2l-1.05 2l-1.05 -2zM1688.64 998.1l1.05 2l-1.05 2l-1.05 -2zM1688.64 999l1.05 2l-1.05 2l-1.05 -2zM1688.64 999.9l1.05 2l-1.05 2l-1.05 -2zM1688.64 1000.8l1.05 2l-1.05 2l-1.05 -2zM1688.64 1001.7l1.05 2l-1.05 2l-1.05 -2zM1688.64 1002.6l1.05 2l-1.05 2l-1.05 -2zM1688.64 1003.5l1.05 2l-1.05 2l-1.05 -2zM1688.64 1004.4l1.05 2l-1.05 2l-1.05 -2zM1688.64 1005.3l1.05 2l-1.05 2l-1.05 -2zM1688.64 1006.2l1.05 2l-1.05 2l-1.05 -2zM1688.64 1007.1l1.05 2l-1.05 2l-1.05 -2zM1688.64 1008l1.05 2l-1.05 2l-1.05 -2zM1688.64 1008.9l1.05 2l-1.05 2l-1.05 -2zM1688.64 1009.8l1.05 2l-1.05 2l-1.05 -2zM1688.64 1010.7l1.05 2l-1.05 2l-1.05 -2zM1688.64 1011.6l1.05 2l-1.05 2l-1.05 -2zM1688.64 1012.5l1.05 2l-1.05 2l-1.05 -2zM1688.64 1013.4l1.05 2l-1.05 2l-1.05 -2zM1688.64 1014.3l1.05 2l-1.05 2l-1.05 -2zM1688.64 1015.2l1.05 2l-1.05 2l-1.05 -2zM1688.64 1016.1l1.05 2l-1.05 2l-1.05 -2zM1688.64 1017l1.05 2l-1.05 2l-1.05 -2zM1688.64 1017.9l1.05 2l-1.05 2l-1.05 -2zM1688.64 1018.8l1.05 2l-1.05 2l-1.05 -2zM1688.64 1019.7l1.05 2l-1.05 2l-1.05 -2zM1688.64 1020.6l1.05 2l-1.05 2l-1.05 -2zM1688.64 1021.5l1.05 2l-1.05 2l-1.05 -2zM1688.64 1022.4l1.05 2l-1.05 2l-1.05 -2zM1688.64 1023.3l1.05 2l-1.05 2l-1.05 -2zM1688.64 1024.2l1.05 2l-1.05 2l-1.05 -2zM1688.64 1025.1l1.05 2l-1.05 2l-1.05 -2zM1688.64 1026l1.05 2l-1.05 2l-1.05 -2zM1688.64 1026.9l1.05 2l-1.05 2l-1.05 -2zM1688.64 1027.8l1.05 2l-1.05 2l-1.05 -2zM1688.64 1028.7l1.05 2l-1.05 2l-1.05 -2zM1688.64 1029.6l1.05 2l-1.05 2l-1.05 -2zM1688.64 1030.5l1.05 2l-1.05 2l-1.05 -2zM1688.64 1031.4l1.05 2l-1.05 2l-1.05 -2zM1688.64 1032.3l1.05 2l-1.05 2l-1.05 -2zM1688.64 1033.2l1.05 2l-1.05 2l-1.05 -2zM1688.64 1034.1l1.05 2l-1.05 2l-1.05 -2zM1688.64 1035l1.05 2l-1.05 2l-1.05 -2zM1688.64 1035.9l1.05 2l-1.05 2l-1.05 -2zM1688.64 1036.8l1.05 2l-1.05 2l-1.05 -2zM1688.64 1037.7l1.05 2l-1.05 2l-1.05 -2zM1688.64 1038.6l1.05 2l-1.05 2l-1.05 -2zM1688.64 1039.5l1.05 2l-1.05 2l-1.05 -2zM1688.64 1040.4l1.05 2l-1.05 2l-1.05 -2zM1688.64 1041.3l1.05 2l-1.05 2l-1.05 -2zM1688.64 1042.2l1.05 2l-1.05 2l-1.05 -2zM1688.64 1043.1l1.05 2l-1.05 2l-1.05 -2zM1688.64 1044l1.05 2l-1.05 2l-1.05 -2zM1688.64 1044.9l1.05 2l-1.05 2l-1.05 -2zM1688.64 1045.8l1.05 2l-1.05 2l-1.05 -2zM1688.64 1046.7l1.05 2l-1.05 2l-1.05 -2zM1688.64 1047.6l1.05 2l-1.05 2l-1.05 -2zM1688.64 1048.5l1.05 2l-1.05 2l-1.05 -2zM1688.64 1049.4l1.05 2l-1.05 2l-1.05 -2z"/>
<path d="M1850.19 302.2l1.05 2l-1.05 2l-1.05 -2zM1850.19 704.4l1.05 2l-1.05 2l-1.05 -2zM1850.19 757l1.05 2l-1.05 2l-1.05 -2zM1850.19 784l1.05 2l-1.05 2l-1.05 -2zM1850.19 795.3l1.05 2l-1.05 2l-1.05 -2zM1850.19 799l1.05 2l-1.05 2l-1.05 -2zM1850.19 823.3l1.05 2l-1.05 2l-1.05 -2zM1850.19 832.2l1.05 2l-1.05 2l-1.05 -2zM1850.19 834.2l1.05 2l-1.05 2l-1.05 -2zM1850.19 835.8l1.05 2l-1.05 2l-1.05 -2zM1850.19 836.4l1.05 2l-1.05 2l-1.05 -2zM1850.19 836.7l1.05 2l-1.05 2l-1.05 -2zM1850.19 837l1.05 2l-1.05 2l-1.05 -2zM1850.19 839.6l1.05 2l-1.05 2l-1.05 -2zM1850.19 843.1l1.05 2l-1.05 2l-1.05 -2zM1850.19 844.6l1.05 2l-1.05 2l-1.05 -2zM1850.19 849.6l1.05 2l-1.05 2l-1.05 -2zM1850.19 850.4l1.05 2l-1.05 2l-1.05 -2zM1850.19 853.5l1.05 2l-1.05 2l-1.05 -2zM1850.19 854.7l1.05 2l-1.05 2l-1.05 -2zM1850.19 855.3l1.05 2l-1.05 2l-1.05 -2zM1850.19 857.3l1.05 2l-1.05 2l-1.05 -2zM1850.19 857.9l1.05 2l-1.05 2l-1.05 -2zM1850.19 858.7l1.05 2l-1.05 2l-1.05 -2zM1850.19 859l1.05 2l-1.05 2l-1.05 -2zM1850.19 859.7l1.05 2l-1.05 2l-1.05 -2zM1850.19 860.4l1.05 2l-1.05 2l-1.05 -2zM1850.19 864l1.05 2l-1.05 2l-1.05 -2zM1850.19 865.6l1.05 2l-1.05 2l-1.05 -2zM1850.19 867.2l1.05 2l-1.05 2l-1.05 -2zM1850.19 867.5l1.05 2l-1.05 2l-1.05 -2zM1850.19 868l1.05 2l-1.05 2l-1.05 -2zM1850.19 868.5l1.05 2l-1.05 2l-1.05 -2zM1850.19 868.8l1.05 2l-1.05 2l-1.05 -2zM1850.19 869.1l1.05 2l-1.05 2l-1.05 -2zM1850.19 869.4l1.05 2l-1.05 2l-1.05 -2zM1850.19 869.7l1.05 2l-1.05 2l-1.05 -2zM1850.19 870.8l1.05 2l-1.05 2l-1.05 -2zM1850.19 872.3l1.05 2l-1.05 2l-1.05 -2zM1850.19 872.6l1.05 2l-1.05 2l-1.05 -2zM1850.19 874l1.05 2l-1.05 2l-1.05 -2zM1850.19 876.3l1.05 2l-1.05 2l-1.05 -2zM1850.19 876.8l1.05 2l-1.05 2l-1.05 -2zM1850.19 877.1l1.05 2l-1.05 2l-1.05 -2zM1850.19 877.4l1.05 2l-1.05 2l-1.05 -2zM1850.19 878.5l1.05 2l-1.05 2l-1.05 -2zM1850.19 881l1.05 2l-1.05 2l-1.05 -2zM1850.19 881.4l1.05 2l-1.05 2l-1.05 -2zM1850.19 883.3l1.05 2l-1.05 2l-1.05 -2zM1850.19 884.2l1.05 2l-1.05 2l-1.05 -2zM1850.19 884.5l1.05 2l-1.05 2l-1.05 -2zM1850.19 884.8l1.05 2l-1.05 2l-1.05 -2zM1850.19 885.8l1.05 2l-1.05 2l-1.05 -2zM1850.19 886.5l1.05 2l-1.05 2l-1.05 -2zM1850.19 887.4l1.05 2l-1.05 2l-1.05 -2zM1850.19 888l1.05 2l-1.05 2l-1.05 -2zM1850.19 889.1l1.05 2l-1.05 2l-1.05 -2zM1850.19 889.5l1.05 2l-1.05 2l-1.05 -2zM1850.19 890l1.05 2l-1.05 2l-1.05 -2zM1850.19 892l1.05 2l-1.05 2l-1.05 -2zM1850.19 892.7l1.05 2l-1.05 2l-1.05 -2zM1850.19 893.8l1.05 2l-1.05 2l-1.05 -2zM1850.19 894.2l1.05 2l-1.05 2l-1.05 -2zM1850.19 896.3l1.05 2l-1.05 2l-1.05 -2zM1850.19 896.6l1.05 2l-1.05 2l-1.05 -2zM1850.19 898.1l1.05 2l-1.05 2l-1.05 -2zM1850.19 898.7l1.05 2l-1.05 2l-1.05 -2zM1850.19 899l1.05 2l-1.05 2l-1.05 -2zM1850.19 899.4l1.05 2l-1.05 2l-1.05 -2zM1850.19 900.2l1.05 2l-1.05 2l-1.05 -2zM1850.19 902.5l1.05 2l-1.05 2l-1.05 -2zM1850.19 902.8l1.05 2l-1.05 2l-1.05 -2zM1850.19 903.1l1.05 2l-1.05 2l-1.05 -2zM1850.19 903.4l1.05 2l-1.05 2l-1.05 -2zM1850.19 903.8l1.05 2l-1.05 2l-1.05 -2zM1850.19 906.8l1.05 2l-1.05 2l-1.05 -2zM1850.19 907.2l1.05 2l-1.05 2l-1.05 -2zM1850.19 907.5l1.05 2l-1.05 2l-1.05 -2zM1850.19 908.7l1.05 2l-1.05 2l-1.05 -2zM1850.19 910.2l1.05 2l-1.05 2l-1.05 -2zM1850.19 911.2l1.05 2l-1.05 2l-1.05 -2zM1850.19 912.3l1.05 2l-1.05 2l-1.05 -2zM1850.19 913.6l1.05 2l-1.05 2l-1.05 -2zM1850.19 914l1.05 2l-1.05 2l-1.05 -2zM1850.19 917.8l1.05 2l-1.05 2l-1.05 -2zM1850.19 918.9l1.05 2l-1.05 2l-1.05 -2zM1850.19 919.5l1.05 2l-1.05 2l-1.05 -2zM1850.19 920.2l1.05 2l-1.05 2l-1.05 -2zM1850.19 920.5l1.05 2l-1.05 2l-1.05 -2zM1850.19 921.5l1.05 2l-1.05 2l-1.05 -2zM1850.19 922.5l1.05 2l-1.05 2l-1.05 -2zM1850.19 922.8l1.05 2l-1.05 2l-1.05 -2zM1850.19 923.9l1.05 2l-1.05 2l-1.05 -2zM1850.19 924.2l1.05 2l-1.05 2l-1.05 -2zM1850.19 924.5l1.05 2l-1.05 2l-1.05 -2zM1850.19 925.2l1.05 2l-1.05 2l-1.05 -2zM1850.19 925.9l1.05 2l-1.05 2l-1.05 -2zM1850.19 926.2l1.05 2l-1.05 2l-1.05 -2zM1850.19 930.4l1.05 2l-1.05 2l-1.05 -2zM1850.19 931l1.05 2l-1.05 2l-1.05 -2zM1850.19 932.6l1.05 2l-1.05 2l-1.05 -2zM1850.19 932.9l1.05 2l-1.05 2l-1.05 -2zM1850.19 933.5l1.05 2l-1.05 2l-1.05 -2zM1850.19 935l1.05 2l-1.05 2l-1.05 -2zM1850.19 935.9l1.05 2l-1.05 2l-1.05 -2zM1850.19 936.8l1.05 2l-1.05 2l-1.05 -2zM1850.19 937.7l1.05 2l-1.05 2l-1.05 -2zM1850.19 938.6l1.05 2l-1.05 2l-1.05 -2zM1850.19 939.5l1.05 2l-1.05 2l-1.05 -2zM1850.19 940.4l1.05 2l-1.05 2l-1.05 -2zM1850.19 941.3l1.05 2l-1.05 2l-1.05 -2zM1850.19 942.2l1.05 2l-1.05 2l-1.05 -2zM1850.19 943.1l1.05 2l-1.05 2l-1.05 -2zM1850.19 944l1.05 2l-1.05 2l-1.05 -2zM1850.19 944.9l1.05 2l-1.05 2l-1.05 -2zM1850.19 945.8l1.05 2l-1.05 2l-1.05 -2zM1850.19 946.7l1.05 2l-1.05 2l-1.05 -2zM1850.19 947.6l1.05 2l-1.05 2l-1.05 -2zM1850.19 948.5l1.05 2l-1.05 2l-1.05 -2zM1850.19 949.4l1.05 2l-1.05 2l-1.05 -2zM1850.19 950.3l1.05 2l-1.05 2l-1.05 -2zM1850.19 951.2l1.05 2l-1.05 2l-1.05 -2zM1850.19 952.1l1.05 2l-1.05 2l-1.05 -2zM1850.19 953l1.05 2l-1.05 2l-1.05 -2zM1850.19 953.9l1.05 2l-1.05 2l-1.05 -2zM1850.19 954.8l1.05 2l-1.05 2l-1.05 -2zM1850.19 955.7l1.05 2l-1.05 2l-1.05 -2zM1850.19 956.6l1.05 2l-1.05 2l-1.05 -2zM1850.19 957.5l1.05 2l-1.05 2l-1.05 -2zM1850.19 958.4l1.05 2l-1.05 2l-1.05 -2zM1850.19 959.3l1.05 2l-1.05 2l-1.05 -2zM1850.19 960.2l1.05 2l-1.05 2l-1.05 -2zM1850.19 961.1l1.05 2l-1.05 2l-1.05 -2zM1850.19 962l1.05 2l-1.05 2l-1.05 -2zM1850.19 962.9l1.05 2l-1.05 2l-1.05 -2zM1850.19 963.8l1.05 2l-1.05 2l-1.05 -2zM1850.19 964.7l1.05 2l-1.05 2l-1.05 -2zM1850.19 965.6l1.05 2l-1.05 2l-1.05 -2zM1850.19 966.5l1.05 2l-1.05 2l-1.05 -2zM1850.19 967.4l1.05 2l-1.05 2l-1.05 -2zM1850.19 968.3l1.05 2l-1.05 2l-1.05 -2zM1850.19 969.2l1.05 2l-1.05 2l-1.05 -2zM1850.19 970.1l1.05 2l-1.05 2l-1.05 -2zM1850.19 971l1.05 2l-1.05 2l-1.05 -2zM1850.19 971.9l1.05 2l-1.05 2l-1.05 -2zM1850.19 972.8l1.05 2l-1.05 2l-1.05 -2zM1850.19 973.7l1.05 2l-1.05 2l-1.05 -2zM1850.19 974.6l1.05 2l-1.05 2l-1.05 -2zM1850.19 975.5l1.05 2l-1.05 2l-1.05 -2zM1850.19 976.4l1.05 2l-1.05 2l-1.05 -2zM1850.19 977.3l1.05 2l-1.05 2l-1.05 -2zM1850.19 978.2l1.05 2l-1.05 2l-1.05 -2zM1850.19 979.1l1.05 2l-1.05 2l-1.05 -2zM1850.19 980l1.05 2l-1.05 2l-1.05 -2zM1850.19 980.9l1.05 2l-1.05 2l-1.05 -2zM1850.19 981.8l1.05 2l-1.05 2l-1.05 -2zM1850.19 982.7l1.05 2l-1.05 2l-1.05 -2zM1850.19 983.6l1.05 2l-1.05 2l-1.05 -2zM1850.19 984.5l1.05 2l-1.05 2l-1.05 -2z"/>
<path d="M2034.81 548.6l1.05 2l-1.05 2l-1.05 -2zM2034.81 633.3l1.05 2l-1.05 2l-1.05 -2zM2034.81 720.2l1.05 2l-1.05 2l-1.05 -2zM2034.81 812.3l1.05 2l-1.05 2l-1.05 -2zM2034.81 838.4l1.05 2l-1.05 2l-1.05 -2zM2034.81 847.9l1.05 2l-1.05 2l-1.05 -2zM2034.81 851.6l1.05 2l-1.05 2l-1.05 -2zM2034.81 855.4l1.05 2l-1.05 2l-1.05 -2zM2034.81 870.9l1.05 2l-1.05 2l-1.05 -2zM2034.81 883.8l1.05 2l-1.05 2l-1.05 -2zM2034.81 892.7l1.05 2l-1.05 2l-1.05 -2zM2034.81 895.5l1.05 2l-1.05 2l-1.05 -2zM2034.81 899.2l1.05 2l-1.05 2l-1.05 -2zM2034.81 900.7l1.05 2l-1.05 2l-1.05 -2zM2034.81 901.8l1.05 2l-1.05 2l-1.05 -2zM2034.81 902.6l1.05 2l-1.05 2l-1.05 -2zM2034.81 904.7l1.05 2l-1.05 2l-1.05 -2zM2034.81 905.6l1.05 2l-1.05 2l-1.05 -2zM2034.81 906.2l1.05 2l-1.05 2l-1.05 -2zM2034.81 908l1.05 2l-1.05 2l-1.05 -2zM2034.81 908.5l1.05 2l-1.05 2l-1.05 -2zM2034.81 908.8l1.05 2l-1.05 2l-1.05 -2zM2034.81 912.8l1.05 2l-1.05 2l-1.05 -2zM2034.81 915.2l1.05 2l-1.05 2l-1.05 -2zM2034.81 915.8l1.05 2l-1.05 2l-1.05 -2zM2034.81 917.5l1.05 2l-1.05 2l-1.05 -2zM2034.81 918.9l1.05 2l-1.05 2l-1.05 -2zM2034.81 919.9l1.05 2l-1.05 2l-1.05 -2zM2034.81 921.8l1.05 2l-1.05 2l-1.05 -2zM2034.81 922.1l1.05 2l-1.05 2l-1.05 -2zM2034.81 923.6l1.05 2l-1.05 2l-1.05 -2zM2034.81 924l1.05 2l-1.05 2l-1.05 -2zM2034.81 930.6l1.05 2l-1.05 2l-1.05 -2zM2034.81 931l1.05 2l-1.05 2l-1.05 -2zM2034.81 932l1.05 2l-1.05 2l-1.05 -2zM2034.81 933.7l1.05 2l-1.05 2l-1.05 -2zM2034.81 934.7l1.05 2l-1.05 2l-1.05 -2zM2034.81 935.5l1.05 2l-1.05 2l-1.05 -2zM2034.81 936l1.05 2l-1.05 2l-1.05 -2zM2034.81 936.4l1.05 2l-1.05 2l-1.05 -2zM2034.81 936.7l1.05 2l-1.05 2l-1.05 -2zM2034.81 937l1.05 2l-1.05 2l-1.05 -2zM2034.81 938.6l1.05 2l-1.05 2l-1.05 -2zM2034.81 942l1.05 2l-1.05 2l-1.05 -2zM2034.81 942.5l1.05 2l-1.05 2l-1.05 -2zM2034.81 942.8l1.05 2l-1.05 2l-1.05 -2zM2034.81 943.1l1.05 2l-1.05 2l-1.05 -2zM2034.81 945l1.05 2l-1.05 2l-1.05 -2zM2034.81 945.3l1.05 2l-1.05 2l-1.05 -2zM2034.81 945.7l1.05 2l-1.05 2l-1.05 -2zM2034.81 946.3l1.05 2l-1.05 2l-1.05 -2zM2034.81 946.6l1.05 2l-1.05 2l-1.05 -2zM2034.81 947l1.05 2l-1.05 2l-1.05 -2zM2034.81 947.3l1.05 2l-1.05 2l-1.05 -2zM2034.81 947.7l1.05 2l-1.05 2l-1.05 -2zM2034.81 948l1.05 2l-1.05 2l-1.05 -2zM2034.81 948l1.05 2l-1.05 2l-1.05 -2zM2034.81 948.9l1.05 2l-1.05 2l-1.05 -2zM2034.81 949.8l1.05 2l-1.05 2l-1.05 -2zM2034.81 950.7l1.05 2l-1.05 2l-1.05 -2zM2034.81 951.6l1.05 2l-1.05 2l-1.05 -2zM2034.81 952.5l1.05 2l-1.05 2l-1.05 -2zM2034.81 953.4l1.05 2l-1.05 2l-1.05 -2zM2034.81 954.3l1.05 2l-1.05 2l-1.05 -2zM2034.81 955.2l1.05 2l-1.05 2l-1.05 -2zM2034.81 956.1l1.05 2l-1.05 2l-1.05 -2zM2034.81 957l1.05 2l-1.05 2l-1.05 -2zM2034.81 957.9l1.05 2l-1.05 2l-1.05 -2zM2034.81 958.8l1.05 2l-1.05 2l-1.05 -2zM2034.81 959.7l1.05 2l-1.05 2l-1.05 -2zM2034.81 960.6l1.05 2l-1.05 2l-1.05 -2zM2034.81 961.5l1.05 2l-1.05 2l-1.05 -2zM2034.81 962.4l1.05 2l-1.05 2l-1.05 -2zM2034.81 963.3l1.05 2l-1.05 2l-1.05 -2zM2034.81 964.2l1.05 2l-1.05 2l-1.05 -2zM2034.81 965.1l1.05 2l-1.05 2l-1.05 -2zM2034.81 966l1.05 2l-1.05 2l-1.05 -2zM2034.81 966.9l1.05 2l-1.05 2l-1.05 -2zM2034.81 967.8l1.05 2l-1.05 2l-1.05 -2zM2034.81 968.7l1.05 2l-1.05 2l-1.05 -2zM2034.81 969.6l1.05 2l-1.05 2l-1.05 -2zM2034.81 970.5l1.05 2l-1.05 2l-1.05 -2zM2034.81 971.4l1.05 2l-1.05 2l-1.05 -2zM2034.81 972.3l1.05 2l-1.05 2l-1.05 -2zM2034.81 973.2l1.05 2l-1.05 2l-1.05 -2zM2034.81 974.1l1.05 2l-1.05 2l-1.05 -2zM2034.81 975l1.05 2l-1.05 2l-1.05 -2zM2034.81 975.9l1.05 2l-1.05 2l-1.05 -2zM2034.81 976.8l1.05 2l-1.05 2l-1.05 -2zM2034.81 977.7l1.05 2l-1.05 2l-1.05 -2zM2034.81 978.6l1.05 2l-1.05 2l-1.05 -2zM2034.81 979.5l1.05 2l-1.05 2l-1.05 -2zM2034.81 980.4l1.05 2l-1.05 2l-1.05 -2zM2034.81 981.3l1.05 2l-1.05 2l-1.05 -2zM2034.81 982.2l1.05 2l-1.05 2l-1.05 -2zM2034.81 983.1l1.05 2l-1.05 2l-1.05 -2zM2034.81 984l1.05 2l-1.05 2l-1.05 -2zM2034.81 984.9l1.05 2l-1.05 2l-1.05 -2zM2034.81 985.8l1.05 2l-1.05 2l-1.05 -2zM2034.81 986.7l1.05 2l-1.05 2l-1.05 -2zM2034.81 987.6l1.05 2l-1.05 2l-1.05 -2zM2034.81 988.5l1.05 2l-1.05 2l-1.05 -2zM2034.81 989.4l1.05 2l-1.05 2l-1.05 -2zM2034.81 990.3l1.05 2l-1.05 2l-1.05 -2zM2034.81 991.2l1.05 2l-1.05 2l-1.05 -2zM2034.81 992.1l1.05 2l-1.05 2l-1.05 -2zM2034.81 993l1.05 2l-1.05 2l-1.05 -2zM2034.81 993.9l1.05 2l-1.05 2l-1.05 -2zM2034.81 994.8l1.05 2l-1.05 2l-1.05 -2zM2034.81 995.7l1.05 2l-1.05 2l-1.05 -2zM2034.81 996.6l1.05 2l-1.05 2l-1.05 -2zM2034.81 997.5l1.05 2l-1.05 2l-1.05 -2zM2034.81 998.4l1.05 2l-1.05 2l-1.05 -2zM2034.81 999.3l1.05 2l-1.05 2l-1.05 -2zM2034.81 1000.2l1.05 2l-1.05 2l-1.05 -2zM2034.81 1001.1l1.05 2l-1.05 2l-1.05 -2zM2034.81 1002l1.05 2l-1.05 2l-1.05 -2zM2034.81 1002.9l1.05 2l-1.05 2l-1.05 -2zM2034.81 1003.8l1.05 2l-1.05 2l-1.05 -2zM2034.81 1004.7l1.05 2l-1.05 2l-1.05 -2zM2034.81 1005.6l1.05 2l-1.05 2l-1.05 -2zM2034.81 1006.5l1.05 2l-1.05 2l-1.05 -2zM2034.81 1007.4l1.05 2l-1.05 2l-1.05 -2zM2034.81 1008.3l1.05 2l-1.05 2l-1.05 -2zM2034.81 1009.2l1.05 2l-1.05 2l-1.05 -2zM2034.81 1010.1l1.05 2l-1.05 2l-1.05 -2zM2034.81 1011l1.05 2l-1.05 2l-1.05 -2zM2034.81 1011.9l1.05 2l-1.05 2l-1.05 -2zM2034.81 1012.8l1.05 2l-1.05 2l-1.05 -2zM2034.81 1013.7l1.05 2l-1.05 2l-1.05 -2zM2034.81 1014.6l1.05 2l-1.05 2l-1.05 -2zM2034.81 1015.5l1.05 2l-1.05 2l-1.05 -2zM2034.81 1016.4l1.05 2l-1.05 2l-1.05 -2zM2034.81 1017.3l1.05 2l-1.05 2l-1.05 -2zM2034.81 1018.2l1.05 2l-1.05 2l-1.05 -2zM2034.81 1019.1l1.05 2l-1.05 2l-1.05 -2zM2034.81 1020l1.05 2l-1.05 2l-1.05 -2zM2034.81 1020.9l1.05 2l-1.05 2l-1.05 -2zM2034.81 1021.8l1.05 2l-1.05 2l-1.05 -2zM2034.81 1022.7l1.05 2l-1.05 2l-1.05 -2zM2034.81 1023.6l1.05 2l-1.05 2l-1.05 -2zM2034.81 1024.5l1.05 2l-1.05 2l-1.05 -2zM2034.81 1025.4l1.05 2l-1.05 2l-1.05 -2zM2034.81 1026.3l1.05 2l-1.05 2l-1.05 -2zM2034.81 1027.2l1.05 2l-1.05 2l-1.05 -2zM2034.81 1028.1l1.05 2l-1.05 2l-1.05 -2zM2034.81 1029l1.05 2l-1.05 2l-1.05 -2zM2034.81 1029.9l1.05 2l-1.05 2l-1.05 -2zM2034.81 1030.8l1.05 2l-1.05 2l-1.05 -2zM2034.81 1031.7l1.05 2l-1.05 2l-1.05 -2zM2034.81 1032.6l1.05 2l-1.05 2l-1.05 -2zM2034.81 1033.5l1.05 2l-1.05 2l-1.05 -2zM2034.81 1034.4l1.05 2l-1.05 2l-1.05 -2zM2034.81 1035.3l1.05 2l-1.05 2l-1.05 -2z"/>
<path d="M2196.36 85.6l1.05 2l-1.05 2l-1.05 -2zM2196.36 89l1.05 2l-1.05 2l-1.05 -2zM2196.36 92.4l1.05 2l-1.05 2l-1.05 -2zM2196.36 95.7l1.05 2l-1.05 2l-1.05 -2zM2196.36 117.7l1.05 2l-1.05 2l-1.05 -2zM2196.36 130.7l1.05 2l-1.05 2l-1.05 -2zM2196.36 135l1.05 2l-1.05 2l-1.05 -2zM2196.36 139.5l1.05 2l-1.05 2l-1.05 -2zM2196.36 175.8l1.05 2l-1.05 2l-1.05 -2zM2196.36 213.3l1.05 2l-1.05 2l-1.05 -2zM2196.36 232.1l1.05 2l-1.05 2l-1.05 -2zM2196.36 239.6l1.05 2l-1.05 2l-1.05 -2zM2196.36 247.2l1.05 2l-1.05 2l-1.05 -2zM2196.36 265.4l1.05 2l-1.05 2l-1.05 -2zM2196.36 287.2l1.05 2l-1.05 2l-1.05 -2zM2196.36 291.5l1.05 2l-1.05 2l-1.05 -2zM2196.36 295.8l1.05 2l-1.05 2l-1.05 -2zM2196.36 300l1.05 2l-1.05 2l-1.05 -2zM2196.36 304l1.05 2l-1.05 2l-1.05 -2zM2196.36 324l1.05 2l-1.05 2l-1.05 -2zM2196.36 331.5l1.05 2l-1.05 2l-1.05 -2zM2196.36 357.8l1.05 2l-1.05 2l-1.05 -2zM2196.36 364.1l1.05 2l-1.05 2l-1.05 -2zM2196.36 372.9l1.05 2l-1.05 2l-1.05 -2zM2196.36 379.1l1.05 2l-1.05 2l-1.05 -2zM2196.36 386.6l1.05 2l-1.05 2l-1.05 -2zM2196.36 391.6l1.05 2l-1.05 2l-1.05 -2zM2196.36 396.6l1.05 2l-1.05 2l-1.05 -2zM2196.36 402.2l1.05 2l-1.05 2l-1.05 -2zM2196.36 412.9l1.05 2l-1.05 2l-1.05 -2zM2196.36 416.7l1.05 2l-1.05 2l-1.05 -2zM2196.36 420.4l1.05 2l-1.05 2l-1.05 -2zM2196.36 426.2l1.05 2l-1.05 2l-1.05 -2zM2196.36 436.7l1.05 2l-1.05 2l-1.05 -2zM2196.36 449.2l1.05 2l-1.05 2l-1.05 -2zM2196.36 462.3l1.05 2l-1.05 2l-1.05 -2zM2196.36 470.5l1.05 2l-1.05 2l-1.05 -2zM2196.36 473.3l1.05 2l-1.05 2l-1.05 -2zM2196.36 476.1l1.05 2l-1.05 2l-1.05 -2zM2196.36 478.9l1.05 2l-1.05 2l-1.05 -2zM2196.36 481.7l1.05 2l-1.05 2l-1.05 -2zM2196.36 495.6l1.05 2l-1.05 2l-1.05 -2zM2196.36 498.1l1.05 2l-1.05 2l-1.05 -2zM2196.36 500.6l1.05 2l-1.05 2l-1.05 -2zM2196.36 503.1l1.05 2l-1.05 2l-1.05 -2zM2196.36 505.6l1.05 2l-1.05 2l-1.05 -2zM2196.36 514.3l1.05 2l-1.05 2l-1.05 -2zM2196.36 516.5l1.05 2l-1.05 2l-1.05 -2zM2196.36 518.7l1.05 2l-1.05 2l-1.05 -2zM2196.36 520.9l1.05 2l-1.05 2l-1.05 -2zM2196.36 523.1l1.05 2l-1.05 2l-1.05 -2zM2196.36 525.3l1.05 2l-1.05 2l-1.05 -2zM2196.36 527.5l1.05 2l-1.05 2l-1.05 -2zM2196.36 529.7l1.05 2l-1.05 2l-1.05 -2zM2196.36 531.9l1.05 2l-1.05 2l-1.05 -2zM2196.36 534.1l1.05 2l-1.05 2l-1.05 -2zM2196.36 536.3l1.05 2l-1.05 2l-1.05 -2zM2196.36 538.5l1.05 2l-1.05 2l-1.05 -2zM2196.36 540.7l1.05 2l-1.05 2l-1.05 -2zM2196.36 542.9l1.05 2l-1.05 2l-1.05 -2zM2196.36 545.1l1.05 2l-1.05 2l-1.05 -2zM2196.36 547.3l1.05 2l-1.05 2l-1.05 -2zM2196.36 558.7l1.05 2l-1.05 2l-1.05 -2zM2196.36 566.9l1.05 2l-1.05 2l-1.05 -2zM2196.36 569.1l1.05 2l-1.05 2l-1.05 -2zM2196.36 571.3l1.05 2l-1.05 2l-1.05 -2zM2196.36 573.5l1.05 2l-1.05 2l-1.05 -2zM2196.36 575.7l1.05 2l-1.05 2l-1.05 -2zM2196.36 577.9l1.05 2l-1.05 2l-1.05 -2zM2196.36 580.1l1.05 2l-1.05 2l-1.05 -2zM2196.36 582.3l1.05 2l-1.05 2l-1.05 -2zM2196.36 584.5l1.05 2l-1.05 2l-1.05 -2zM2196.36 586.7l1.05 2l-1.05 2l-1.05 -2zM2196.36 595l1.05 2l-1.05 2l-1.05 -2zM2196.36 604l1.05 2l-1.05 2l-1.05 -2zM2196.36 604.5l1.05 2l-1.05 2l-1.05 -2zM2196.36 606l1.05 2l-1.05 2l-1.05 -2zM2196.36 606.3l1.05 2l-1.05 2l-1.05 -2zM2196.36 607.6l1.05 2l-1.05 2l-1.05 -2zM2196.36 608.9l1.05 2l-1.05 2l-1.05 -2zM2196.36 609.2l1.05 2l-1.05 2l-1.05 -2zM2196.36 610l1.05 2l-1.05 2l-1.05 -2zM2196.36 612.1l1.05 2l-1.05 2l-1.05 -2zM2196.36 612.4l1.05 2l-1.05 2l-1.05 -2zM2196.36 615.3l1.05 2l-1.05 2l-1.05 -2zM2196.36 616.4l1.05 2l-1.05 2l-1.05 -2zM2196.36 617l1.05 2l-1.05 2l-1.05 -2zM2196.36 619.5l1.05 2l-1.05 2l-1.05 -2zM2196.36 619.8l1.05 2l-1.05 2l-1.05 -2zM2196.36 620.2l1.05 2l-1.05 2l-1.05 -2zM2196.36 622.1l1.05 2l-1.05 2l-1.05 -2zM2196.36 622.4l1.05 2l-1.05 2l-1.05 -2zM2196.36 624.1l1.05 2l-1.05 2l-1.05 -2zM2196.36 624.4l1.05 2l-1.05 2l-1.05 -2zM2196.36 624.8l1.05 2l-1.05 2l-1.05 -2zM2196.36 625.1l1.05 2l-1.05 2l-1.05 -2zM2196.36 628.5l1.05 2l-1.05 2l-1.05 -2zM2196.36 629.9l1.05 2l-1.05 2l-1.05 -2zM2196.36 630.2l1.05 2l-1.05 2l-1.05 -2zM2196.36 630.7l1.05 2l-1.05 2l-1.05 -2zM2196.36 631l1.05 2l-1.05 2l-1.05 -2zM2196.36 631.7l1.05 2l-1.05 2l-1.05 -2zM2196.36 632l1.05 2l-1.05 2l-1.05 -2zM2196.36 632.3l1.05 2l-1.05 2l-1.05 -2zM2196.36 632.7l1.05 2l-1.05 2l-1.05 -2zM2196.36 633.7l1.05 2l-1.05 2l-1.05 -2zM2196.36 634.3l1.05 2l-1.05 2l-1.05 -2zM2196.36 635l1.05 2l-1.05 2l-1.05 -2zM2196.36 635.3l1.05 2l-1.05 2l-1.05 -2zM2196.36 637.1l1.05 2l-1.05 2l-1.05 -2zM2196.36 639.9l1.05 2l-1.05 2l-1.05 -2zM2196.36 640.9l1.05 2l-1.05 2l-1.05 -2zM2196.36 641.6l1.05 2l-1.05 2l-1.05 -2zM2196.36 642l1.05 2l-1.05 2l-1.05 -2zM2196.36 644.4l1.05 2l-1.05 2l-1.05 -2zM2196.36 645l1.05 2l-1.05 2l-1.05 -2zM2196.36 646.1l1.05 2l-1.05 2l-1.05 -2zM2196.36 647.7l1.05 2l-1.05 2l-1.05 -2zM2196.36 648.5l1.05 2l-1.05 2l-1.05 -2zM2196.36 649.3l1.05 2l-1.05 2l-1.05 -2zM2196.36 650.4l1.05 2l-1.05 2l-1.05 -2zM2196.36 651.4l1.05 2l-1.05 2l-1.05 -2zM2196.36 652.8l1.05 2l-1.05 2l-1.05 -2zM2196.36 653.3l1.05 2l-1.05 2l-1.05 -2zM2196.36 654.6l1.05 2l-1.05 2l-1.05 -2zM2196.36 655.2l1.05 2l-1.05 2l-1.05 -2zM2196.36 656.3l1.05 2l-1.05 2l-1.05 -2zM2196.36 656.7l1.05 2l-1.05 2l-1.05 -2zM2196.36 657.6l1.05 2l-1.05 2l-1.05 -2zM2196.36 659.7l1.05 2l-1.05 2l-1.05 -2zM2196.36 662.4l1.05 2l-1.05 2l-1.05 -2zM2196.36 664.7l1.05 2l-1.05 2l-1.05 -2zM2196.36 668l1.05 2l-1.05 2l-1.05 -2zM2196.36 668.3l1.05 2l-1.05 2l-1.05 -2zM2196.36 669l1.05 2l-1.05 2l-1.05 -2zM2196.36 669.4l1.05 2l-1.05 2l-1.05 -2zM2196.36 669.8l1.05 2l-1.05 2l-1.05 -2zM2196.36 670.6l1.05 2l-1.05 2l-1.05 -2zM2196.36 670.9l1.05 2l-1.05 2l-1.05 -2zM2196.36 671.2l1.05 2l-1.05 2l-1.05 -2zM2196.36 671.9l1.05 2l-1.05 2l-1.05 -2zM2196.36 672.2l1.05 2l-1.05 2l-1.05 -2zM2196.36 672.5l1.05 2l-1.05 2l-1.05 -2zM2196.36 673.7l1.05 2l-1.05 2l-1.05 -2zM2196.36 674.1l1.05 2l-1.05 2l-1.05 -2zM2196.36 674.6l1.05 2l-1.05 2l-1.05 -2zM2196.36 675.1l1.05 2l-1.05 2l-1.05 -2zM2196.36 676l1.05 2l-1.05 2l-1.05 -2zM2196.36 676.9l1.05 2l-1.05 2l-1.05 -2zM2196.36 677.2l1.05 2l-1.05 2l-1.05 -2zM2196.36 677.5l1.05 2l-1.05 2l-1.05 -2zM2196.36 679.4l1.05 2l-1.05 2l-1.05 -2zM2196.36 681.6l1.05 2l-1.05 2l-1.05 -2zM2196.36 681.9l1.05 2l-1.05 2l-1.05 -2zM2196.36 682.2l1.05 2l-1.05 2l-1.05 -2zM2196.36 682.6l1.05 2l-1.05 2l-1.05 -2zM2196.36 682.9l1.05 2l-1.05 2l-1.05 -2zM2196.36 683.2l1.05 2l-1.05 2l-1.05 -2zM2196.36 683.5l1.05 2l-1.05 2l-1.05 -2zM2196.36 683.8l1.05 2l-1.05 2l-1.05 -2zM2196.36 685.1l1.05 2l-1.05 2l-1.05 -2zM2196.36 685.5l1.05 2l-1.05 2l-1.05 -2zM2196.36 685.8l1.05 2l-1.05 2l-1.05 -2zM2196.36 686.2l1.05 2l-1.05 2l-1.05 -2zM2196.36 686.5l1.05 2l-1.05 2l-1.05 -2zM2196.36 687.4l1.05 2l-1.05 2l-1.05 -2zM2196.36 687.7l1.05 2l-1.05 2l-1.05 -2zM2196.36 688.6l1.05 2l-1.05 2l-1.05 -2zM2196.36 689.3l1.05 2l-1.05 2l-1.05 -2zM2196.36 690.4l1.05 2l-1.05 2l-1.05 -2zM2196.36 691.4l1.05 2l-1.05 2l-1.05 -2zM2196.36 693.1l1.05 2l-1.05 2l-1.05 -2zM2196.36 693.8l1.05 2l-1.05 2l-1.05 -2zM2196.36 697l1.05 2l-1.05 2l-1.05 -2zM2196.36 698.2l1.05 2l-1.05 2l-1.05 -2zM2196.36 698.6l1.05 2l-1.05 2l-1.05 -2zM2196.36 698.9l1.05 2l-1.05 2l-1.05 -2zM2196.36 700l1.05 2l-1.05 2l-1.05 -2zM2196.36 700.4l1.05 2l-1.05 2l-1.05 -2zM2196.36 702.5l1.05 2l-1.05 2l-1.05 -2zM2196.36 703.2l1.05 2l-1.05 2l-1.05 -2zM2196.36 703.7l1.05 2l-1.05 2l-1.05 -2zM2196.36 704l1.05 2l-1.05 2l-1.05 -2zM2196.36 704.3l1.05 2l-1.05 2l-1.05 -2zM2196.36 705.2l1.05 2l-1.05 2l-1.05 -2zM2196.36 707.7l1.05 2l-1.05 2l-1.05 -2zM2196.36 709.3l1.05 2l-1.05 2l-1.05 -2zM2196.36 712.4l1.05 2l-1.05 2l-1.05 -2zM2196.36 714.2l1.05 2l-1.05 2l-1.05 -2zM2196.36 714.8l1.05 2l-1.05 2l-1.05 -2zM2196.36 715.3l1.05 2l-1.05 2l-1.05 -2zM2196.36 715.6l1.05 2l-1.05 2l-1.05 -2zM2196.36 716.3l1.05 2l-1.05 2l-1.05 -2zM2196.36 716.6l1.05 2l-1.05 2l-1.05 -2zM2196.36 717.3l1.05 2l-1.05 2l-1.05 -2zM2196.36 719.5l1.05 2l-1.05 2l-1.05 -2zM2196.36 719.8l1.05 2l-1.05 2l-1.05 -2zM2196.36 720.1l1.05 2l-1.05 2l-1.05 -2zM2196.36 722.5l1.05 2l-1.05 2l-1.05 -2zM2196.36 723l1.05 2l-1.05 2l-1.05 -2zM2196.36 723.3l1.05 2l-1.05 2l-1.05 -2zM2196.36 723.6l1.05 2l-1.05 2l-1.05 -2zM2196.36 724l1.05 2l-1.05 2l-1.05 -2zM2196.36 724.3l1.05 2l-1.05 2l-1.05 -2zM2196.36 725.3l1.05 2l-1.05 2l-1.05 -2zM2196.36 726.6l1.05 2l-1.05 2l-1.05 -2zM2196.36 727.2l1.05 2l-1.05 2l-1.05 -2zM2196.36 727.5l1.05 2l-1.05 2l-1.05 -2zM2196.36 727.9l1.05 2l-1.05 2l-1.05 -2zM2196.36 728.9l1.05 2l-1.05 2l-1.05 -2zM2196.36 729.4l1.05 2l-1.05 2l-1.05 -2zM2196.36 729.7l1.05 2l-1.05 2l-1.05 -2zM2196.36 730l1.05 2l-1.05 2l-1.05 -2zM2196.36 730.5l1.05 2l-1.05 2l-1.05 -2zM2196.36 731.1l1.05 2l-1.05 2l-1.05 -2zM2196.36 732.2l1.05 2l-1.05 2l-1.05 -2zM2196.36 733.9l1.05 2l-1.05 2l-1.05 -2zM2196.36 734.2l1.05 2l-1.05 2l-1.05 -2zM2196.36 734.5l1.05 2l-1.05 2l-1.05 -2zM2196.36 736.9l1.05 2l-1.05 2l-1.05 -2zM2196.36 737.2l1.05 2l-1.05 2l-1.05 -2zM2196.36 739.5l1.05 2l-1.05 2l-1.05 -2zM2196.36 740.1l1.05 2l-1.05 2l-1.05 -2zM2196.36 741l1.05 2l-1.05 2l-1.05 -2zM2196.36 743.9l1.05 2l-1.05 2l-1.05 -2zM2196.36 744.7l1.05 2l-1.05 2l-1.05 -2zM2196.36 745l1.05 2l-1.05 2l-1.05 -2zM2196.36 746l1.05 2l-1.05 2l-1.05 -2zM2196.36 746.4l1.05 2l-1.05 2l-1.05 -2zM2196.36 746.9l1.05 2l-1.05 2l-1.05 -2zM2196.36 748l1.05 2l-1.05 2l-1.05 -2zM2196.36 749.2l1.05 2l-1.05 2l-1.05 -2zM2196.36 751.3l1.05 2l-1.05 2l-1.05 -2zM2196.36 752.1l1.05 2l-1.05 2l-1.05 -2zM2196.36 752.4l1.05 2l-1.05 2l-1.05 -2zM2196.36 754.6l1.05 2l-1.05 2l-1.05 -2zM2196.36 755.8l1.05 2l-1.05 2l-1.05 -2zM2196.36 756.8l1.05 2l-1.05 2l-1.05 -2zM2196.36 757.6l1.05 2l-1.05 2l-1.05 -2zM2196.36 758.3l1.05 2l-1.05 2l-1.05 -2zM2196.36 762.5l1.05 2l-1.05 2l-1.05 -2zM2196.36 764.4l1.05 2l-1.05 2l-1.05 -2zM2196.36 764.7l1.05 2l-1.05 2l-1.05 -2zM2196.36 765l1.05 2l-1.05 2l-1.05 -2zM2196.36 765.3l1.05 2l-1.05 2l-1.05 -2zM2196.36 765.9l1.05 2l-1.05 2l-1.05 -2zM2196.36 767.1l1.05 2l-1.05 2l-1.05 -2zM2196.36 767.4l1.05 2l-1.05 2l-1.05 -2zM2196.36 768l1.05 2l-1.05 2l-1.05 -2zM2196.36 769.3l1.05 2l-1.05 2l-1.05 -2zM2196.36 769.6l1.05 2l-1.05 2l-1.05 -2zM2196.36 769.9l1.05 2l-1.05 2l-1.05 -2zM2196.36 770.4l1.05 2l-1.05 2l-1.05 -2zM2196.36 771.2l1.05 2l-1.05 2l-1.05 -2zM2196.36 771.7l1.05 2l-1.05 2l-1.05 -2zM2196.36 773.6l1.05 2l-1.05 2l-1.05 -2zM2196.36 774l1.05 2l-1.05 2l-1.05 -2zM2196.36 774.9l1.05 2l-1.05 2l-1.05 -2zM2196.36 775.8l1.05 2l-1.05 2l-1.05 -2zM2196.36 776.7l1.05 2l-1.05 2l-1.05 -2zM2196.36 777.6l1.05 2l-1.05 2l-1.05 -2zM2196.36 778.5l1.05 2l-1.05 2l-1.05 -2zM2196.36 779.4l1.05 2l-1.05 2l-1.05 -2zM2196.36 780.3l1.05 2l-1.05 2l-1.05 -2zM2196.36 781.2l1.05 2l-1.05 2l-1.05 -2zM2196.36 782.1l1.05 2l-1.05 2l-1.05 -2zM2196.36 783l1.05 2l-1.05 2l-1.05 -2zM2196.36 783.9l1.05 2l-1.05 2l-1.05 -2zM2196.36 784.8l1.05 2l-1.05 2l-1.05 -2zM2196.36 785.7l1.05 2l-1.05 2l-1.05 -2zM2196.36 786.6l1.05 2l-1.05 2l-1.05 -2zM2196.36 787.5l1.05 2l-1.05 2l-1.05 -2zM2196.36 788.4l1.05 2l-1.05 2l-1.05 -2zM2196.36 789.3l1.05 2l-1.05 2l-1.05 -2zM2196.36 790.2l1.05 2l-1.05 2l-1.05 -2zM2196.36 791.1l1.05 2l-1.05 2l-1.05 -2zM2196.36 792l1.05 2l-1.05 2l-1.05 -2zM2196.36 792.9l1.05 2l-1.05 2l-1.05 -2zM2196.36 793.8l1.05 2l-1.05 2l-1.05 -2zM2196.36 794.7l1.05 2l-1.05 2l-1.05 -2zM2196.36 795.6l1.05 2l-1.05 2l-1.05 -2zM2196.36 796.5l1.05 2l-1.05 2l-1.05 -2zM2196.36 797.4l1.05 2l-1.05 2l-1.05 -2zM2196.36 798.3l1.05 2l-1.05 2l-1.05 -2zM2196.36 799.2l1.05 2l-1.05 2l-1.05 -2zM2196.36 800.1l1.05 2l-1.05 2l-1.05 -2zM2196.36 801l1.05 2l-1.05 2l-1.05 -2zM2196.36 801.9l1.05 2l-1.05 2l-1.05 -2zM2196.36 802.8l1.05 2l-1.05 2l-1.05 -2zM2196.36 803.7l1.05 2l-1.05 2l-1.05 -2zM2196.36 804.6l1.05 2l-1.05 2l-1.05 -2zM2196.36 805.5l1.05 2l-1.05 2l-1.05 -2zM2196.36 806.4l1.05 2l-1.05 2l-1.05 -2zM2196.36 807.3l1.05 2l-1.05 2l-1.05 -2zM2196.36 808.2l1.05 2l-1.05 2l-1.05 -2zM2196.36 809.1l1.05 2l-1.05 2l-1.05 -2zM2196.36 810l1.05 2l-1.05 2l-1.05 -2zM2196.36 810.9l1.05 2l-1.05 2l-1.05 -2zM2196.36 811.8l1.05 2l-1.05 2l-1.05 -2zM2196.36 812.7l1.05 2l-1.05 2l-1.05 -2zM2196.36 813.6l1.05 2l-1.05 2l-1.05 -2zM2196.36 814.5l1.05 2l-1.05 2l-1.05 -2zM2196.36 815.4l1.05 2l-1.05 2l-1.05 -2zM2196.36 816.3l1.05 2l-1.05 2l-1.05 -2zM2196.36 817.2l1.05 2l-1.05 2l-1.05 -2zM2196.36 818.1l1.05 2l-1.05 2l-1.05 -2zM2196.36 819l1.05 2l-1.05 2l-1.05 -2zM2196.36 819.9l1.05 2l-1.05 2l-1.05 -2zM2196.36 820.8l1.05 2l-1.05 2l-1.05 -2zM2196.36 821.7l1.05 2l-1.05 2l-1.05 -2zM2196.36 822.6l1.05 2l-1.05 2l-1.05 -2zM2196.36 823.5l1.05 2l-1.05 2l-1.05 -2zM2196.36 824.4l1.05 2l-1.05 2l-1.05 -2zM2196.36 825.3l1.05 2l-1.05 2l-1.05 -2zM2196.36 826.2l1.05 2l-1.05 2l-1.05 -2zM2196.36 827.1l1.05 2l-1.05 2l-1.05 -2zM2196.36 828l1.05 2l-1.05 2l-1.05 -2zM2196.36 828.9l1.05 2l-1.05 2l-1.05 -2zM2196.36 829.8l1.05 2l-1.05 2l-1.05 -2zM2196.36 830.7l1.05 2l-1.05 2l-1.05 -2zM2196.36 831.6l1.05 2l-1.05 2l-1.05 -2zM2196.36 832.5l1.05 2l-1.05 2l-1.05 -2zM2196.36 833.4l1.05 2l-1.05 2l-1.05 -2zM2196.36 834.3l1.05 2l-1.05 2l-1.05 -2zM2196.36 835.2l1.05 2l-1.05 2l-1.05 -2zM2196.36 836.1l1.05 2l-1.05 2l-1.05 -2zM2196.36 837l1.05 2l-1.05 2l-1.05 -2zM2196.36 837.9l1.05 2l-1.05 2l-1.05 -2zM2196.36 838.8l1.05 2l-1.05 2l-1.05 -2zM2196.36 839.7l1.05 2l-1.05 2l-1.05 -2zM2196.36 840.6l1.05 2l-1.05 2l-1.05 -2zM2196.36 841.5l1.05 2l-1.05 2l-1.05 -2zM2196.36 842.4l1.05 2l-1.05 2l-1.05 -2zM2196.36 843.3l1.05 2l-1.05 2l-1.05 -2zM2196.36 844.2l1.05 2l-1.05 2l-1.05 -2zM2196.36 845.1l1.05 2l-1.05 2l-1.05 -2zM2196.36 846l1.05 2l-1.05 2l-1.05 -2zM2196.36 846.9l1.05 2l-1.05 2l-1.05 -2zM2196.36 847.8l1.05 2l-1.05 2l-1.05 -2zM2196.36 848.7l1.05 2l-1.05 2l-1.05 -2z"/>
<path d="M2380.98 548.6l1.05 2l-1.05 2l-1.05 -2zM2380.98 633.3l1.05 2l-1.05 2l-1.05 -2zM2380.98 673.4l1.05 2l-1.05 2l-1.05 -2zM2380.98 720.2l1.05 2l-1.05 2l-1.05 -2zM2380.98 777l1.05 2l-1.05 2l-1.05 -2zM2380.98 790.3l1.05 2l-1.05 2l-1.05 -2zM2380.98 802.4l1.05 2l-1.05 2l-1.05 -2zM2380.98 838.3l1.05 2l-1.05 2l-1.05 -2zM2380.98 846.6l1.05 2l-1.05 2l-1.05 -2zM2380.98 848.4l1.05 2l-1.05 2l-1.05 -2zM2380.98 854.8l1.05 2l-1.05 2l-1.05 -2zM2380.98 870.8l1.05 2l-1.05 2l-1.05 -2zM2380.98 872.6l1.05 2l-1.05 2l-1.05 -2zM2380.98 883l1.05 2l-1.05 2l-1.05 -2zM2380.98 886.5l1.05 2l-1.05 2l-1.05 -2zM2380.98 890l1.05 2l-1.05 2l-1.05 -2zM2380.98 893.5l1.05 2l-1.05 2l-1.05 -2zM2380.98 901.5l1.05 2l-1.05 2l-1.05 -2zM2380.98 907l1.05 2l-1.05 2l-1.05 -2zM2380.98 911l1.05 2l-1.05 2l-1.05 -2zM2380.98 915l1.05 2l-1.05 2l-1.05 -2zM2380.98 919l1.05 2l-1.05 2l-1.05 -2zM2380.98 926l1.05 2l-1.05 2l-1.05 -2zM2380.98 926.5l1.05 2l-1.05 2l-1.05 -2zM2380.98 926.9l1.05 2l-1.05 2l-1.05 -2zM2380.98 927.8l1.05 2l-1.05 2l-1.05 -2zM2380.98 930.3l1.05 2l-1.05 2l-1.05 -2zM2380.98 931.8l1.05 2l-1.05 2l-1.05 -2zM2380.98 932.1l1.05 2l-1.05 2l-1.05 -2zM2380.98 932.4l1.05 2l-1.05 2l-1.05 -2zM2380.98 932.7l1.05 2l-1.05 2l-1.05 -2zM2380.98 939.1l1.05 2l-1.05 2l-1.05 -2zM2380.98 939.5l1.05 2l-1.05 2l-1.05 -2zM2380.98 940l1.05 2l-1.05 2l-1.05 -2zM2380.98 943.9l1.05 2l-1.05 2l-1.05 -2zM2380.98 946l1.05 2l-1.05 2l-1.05 -2zM2380.98 946.3l1.05 2l-1.05 2l-1.05 -2zM2380.98 947.7l1.05 2l-1.05 2l-1.05 -2zM2380.98 948.3l1.05 2l-1.05 2l-1.05 -2zM2380.98 952l1.05 2l-1.05 2l-1.05 -2zM2380.98 952.6l1.05 2l-1.05 2l-1.05 -2zM2380.98 952.9l1.05 2l-1.05 2l-1.05 -2zM2380.98 954.8l1.05 2l-1.05 2l-1.05 -2zM2380.98 955.6l1.05 2l-1.05 2l-1.05 -2zM2380.98 956.6l1.05 2l-1.05 2l-1.05 -2zM2380.98 956.9l1.05 2l-1.05 2l-1.05 -2zM2380.98 957.2l1.05 2l-1.05 2l-1.05 -2zM2380.98 957.5l1.05 2l-1.05 2l-1.05 -2zM2380.98 959l1.05 2l-1.05 2l-1.05 -2zM2380.98 960.4l1.05 2l-1.05 2l-1.05 -2zM2380.98 960.7l1.05 2l-1.05 2l-1.05 -2zM2380.98 961.1l1.05 2l-1.05 2l-1.05 -2zM2380.98 962.7l1.05 2l-1.05 2l-1.05 -2zM2380.98 963l1.05 2l-1.05 2l-1.05 -2zM2380.98 963.3l1.05 2l-1.05 2l-1.05 -2zM2380.98 964.2l1.05 2l-1.05 2l-1.05 -2zM2380.98 964.5l1.05 2l-1.05 2l-1.05 -2zM2380.98 964.9l1.05 2l-1.05 2l-1.05 -2zM2380.98 967.5l1.05 2l-1.05 2l-1.05 -2zM2380.98 968l1.05 2l-1.05 2l-1.05 -2zM2380.98 968.3l1.05 2l-1.05 2l-1.05 -2zM2380.98 969.2l1.05 2l-1.05 2l-1.05 -2zM2380.98 970.4l1.05 2l-1.05 2l-1.05 -2zM2380.98 971.1l1.05 2l-1.05 2l-1.05 -2zM2380.98 972.4l1.05 2l-1.05 2l-1.05 -2zM2380.98 973l1.05 2l-1.05 2l-1.05 -2zM2380.98 973.9l1.05 2l-1.05 2l-1.05 -2zM2380.98 974.8l1.05 2l-1.05 2l-1.05 -2zM2380.98 975.7l1.05 2l-1.05 2l-1.05 -2zM2380.98 976.6l1.05 2l-1.05 2l-1.05 -2zM2380.98 977.5l1.05 2l-1.05 2l-1.05 -2zM2380.98 978.4l1.05 2l-1.05 2l-1.05 -2zM2380.98 979.3l1.05 2l-1.05 2l-1.05 -2zM2380.98 980.2l1.05 2l-1.05 2l-1.05 -2zM2380.98 981.1l1.05 2l-1.05 2l-1.05 -2zM2380.98 982l1.05 2l-1.05 2l-1.05 -2zM2380.98 982.9l1.05 2l-1.05 2l-1.05 -2zM2380.98 983.8l1.05 2l-1.05 2l-1.05 -2zM2380.98 984.7l1.05 2l-1.05 2l-1.05 -2zM2380.98 985.6l1.05 2l-1.05 2l-1.05 -2zM2380.98 986.5l1.05 2l-1.05 2l-1.05 -2zM2380.98 987.4l1.05 2l-1.05 2l-1.05 -2zM2380.98 988.3l1.05 2l-1.05 2l-1.05 -2zM2380.98 989.2l1.05 2l-1.05 2l-1.05 -2zM2380.98 990.1l1.05 2l-1.05 2l-1.05 -2zM2380.98 991l1.05 2l-1.05 2l-1.05 -2zM2380.98 991.9l1.05 2l-1.05 2l-1.05 -2zM2380.98 992.8l1.05 2l-1.05 2l-1.05 -2zM2380.98 993.7l1.05 2l-1.05 2l-1.05 -2zM2380.98 994.6l1.05 2l-1.05 2l-1.05 -2zM2380.98 995.5l1.05 2l-1.05 2l-1.05 -2zM2380.98 996.4l1.05 2l-1.05 2l-1.05 -2zM2380.98 997.3l1.05 2l-1.05 2l-1.05 -2zM2380.98 998.2l1.05 2l-1.05 2l-1.05 -2zM2380.98 999.1l1.05 2l-1.05 2l-1.05 -2zM2380.98 1000l1.05 2l-1.05 2l-1.05 -2zM2380.98 1000.9l1.05 2l-1.05 2l-1.05 -2zM2380.98 1001.8l1.05 2l-1.05 2l-1.05 -2zM2380.98 1002.7l1.05 2l-1.05 2l-1.05 -2zM2380.98 1003.6l1.05 2l-1.05 2l-1.05 -2zM2380.98 1004.5l1.05 2l-1.05 2l-1.05 -2zM2380.98 1005.4l1.05 2l-1.05 2l-1.05 -2zM2380.98 1006.3l1.05 2l-1.05 2l-1.05 -2zM2380.98 1007.2l1.05 2l-1.05 2l-1.05 -2zM2380.98 1008.1l1.05 2l-1.05 2l-1.05 -2zM2380.98 1009l1.05 2l-1.05 2l-1.05 -2zM2380.98 1009.9l1.05 2l-1.05 2l-1.05 -2zM2380.98 1010.8l1.05 2l-1.05 2l-1.05 -2zM2380.98 1011.7l1.05 2l-1.05 2l-1.05 -2zM2380.98 1012.6l1.05 2l-1.05 2l-1.05 -2zM2380.98 1013.5l1.05 2l-1.05 2l-1.05 -2zM2380.98 1014.4l1.05 2l-1.05 2l-1.05 -2zM2380.98 1015.3l1.05 2l-1.05 2l-1.05 -2zM2380.98 1016.2l1.05 2l-1.05 2l-1.05 -2zM2380.98 1017.1l1.05 2l-1.05 2l-1.05 -2zM2380.98 1018l1.05 2l-1.05 2l-1.05 -2zM2380.98 1018.9l1.05 2l-1.05 2l-1.05 -2zM2380.98 1019.8l1.05 2l-1.05 2l-1.05 -2zM2380.98 1020.7l1.05 2l-1.05 2l-1.05 -2zM2380.98 1021.6l1.05 2l-1.05 2l-1.05 -2z"/>
</g>
<path d="M1504.02 1003.5V1035.5M1688.64 990.5V1053.5M1850.19 935.5V988.5M2034.81 948.5V1039.5M2196.36 774.5V852.5M2380.98 973.5V1025.5" stroke="#3f3f3f" stroke-width="3.3" fill="none"/>
</g>
<path d="M1423.1 1064.1H1414.1M1423.1 940.04H1414.1M1423.1 815.97H1414.1M1423.1 691.91H1414.1M1423.1 567.85H1414.1M1423.1 443.79H1414.1M1423.1 319.73H1414.1M1423.1 195.66H1414.1M1423.1 71.6H1414.1M1596.18 1064.1V1070M1942.35 1064.1V1070M2288.52 1064.1V1070" stroke="#000" stroke-width="2.2" fill="none"/>
<rect x="1423.1" y="71.6" width="1038.5" height="992.5" fill="none" stroke="#000" stroke-width="2.2"/>
<rect x="1438.1" y="86.1" width="212.6" height="139.5" rx="5.5" ry="5.5" fill="#fff" fill-opacity="0.8" stroke="#ccc" stroke-opacity="0.8" stroke-width="2.6"/>
<rect x="1451.05" y="99.19" width="60.8" height="20.72" fill="#3274a1" stroke="#3f3f3f" stroke-width="2.08"/>
<rect x="1451.05" y="142.14" width="60.8" height="21.72" fill="#e1812c" stroke="#3f3f3f" stroke-width="2.08"/>
<rect x="1451.05" y="185.94" width="60.8" height="21.02" fill="#3a923a" stroke="#3f3f3f" stroke-width="2.08"/>
<text transform="translate(1537 121.05) scale(1 1)" font-size="30.56">DPTSM</text>
<text transform="translate(1537 163.9) scale(1 1)" font-size="30.56">DPTS</text>
<text transform="translate(1537 207.1) scale(1 1)" font-size="30.56">DP</text>
</g>
<g id="labels">
<text transform="translate(541.66 48.1) scale(0.9928 1)" font-size="47.22">Port Water Data</text>
<text transform="translate(1780.62 50.9) scale(0.9907 1)" font-size="47.22">CoastWater Data</text>
<text transform="translate(72.76 87.6) scale(0.9852 1)" font-size="41.67">4000</text>
<text transform="translate(71.42 211.6) scale(0.9906 1)" font-size="41.67">3500</text>
<text transform="translate(72.49 328.9) scale(1.0031 1)" font-size="41.67">3000</text>
<text transform="translate(73.96 456.6) scale(0.9937 1)" font-size="41.67">2500</text>
<text transform="translate(75.96 577.7) scale(0.995 1)" font-size="41.67">2000</text>
<text transform="translate(72.08 701.4) scale(0.9923 1)" font-size="41.67">1500</text>
<text transform="translate(78.88 826.9) scale(0.9923 1)" font-size="41.67">1000</text>
<text transform="translate(96.2 949) scale(1.0017 1)" font-size="41.67">500</text>
<text transform="translate(138.32 1076.9) scale(0.9859 1)" font-size="41.67">0</text>
<text transform="translate(1323.76 85.8) scale(0.9877 1)" font-size="41.67">4000</text>
<text transform="translate(1322.53 210) scale(0.9868 1)" font-size="41.67">3500</text>
<text transform="translate(1323.81 333) scale(0.9956 1)" font-size="41.67">3000</text>
<text transform="translate(1325.06 460.8) scale(0.9925 1)" font-size="41.67">2500</text>
<text transform="translate(1326.95 581.8) scale(0.9975 1)" font-size="41.67">2000</text>
<text transform="translate(1323.08 705.9) scale(0.9923 1)" font-size="41.67">1500</text>
<text transform="translate(1330.18 831) scale(0.9923 1)" font-size="41.67">1000</text>
<text transform="translate(1347.5 953.5)" font-size="41.67">500</text>
<text transform="translate(1389.09 1081.3) scale(1.0085 1)" font-size="41.67">0</text>
<text transform="translate(274.57 1107.9) scale(1.0127 1)" font-size="36.11">75.0</text>
<text transform="translate(537.37 1106) scale(0.9868 1)" font-size="36.11">91.5</text>
<text transform="translate(795.77 1106) scale(0.9835 1)" font-size="36.11">95.5</text>
<text transform="translate(1059.77 1106.6) scale(0.9802 1)" font-size="36.11">96.5</text>
<text transform="translate(1578.04 1107.3) scale(0.9731 1.04)" font-size="36.11">87</text>
<text transform="translate(1924.06 1106.8) scale(0.9881 1.03)" font-size="36.11">95</text>
<text transform="translate(2270.57 1107) scale(0.9837 1.03)" font-size="36.11">97</text>
<text transform="translate(544.21 1148.4) scale(0.9958 1)" font-size="36.11">Compress Rate(%)</text>
<text transform="translate(1802.21 1149.2) scale(0.9961 1)" font-size="36.11">Compress Rate(%)</text>
<text transform="translate(638.84 1198.4) scale(1.0082 1)" font-size="41.67">(a)</text>
<text transform="translate(1916.16 1198.7) scale(0.9933 1)" font-size="41.67">(b)</text>
<text transform="translate(46 753.19) rotate(-90) scale(0.9938 1)" font-size="36.11">Max Position Error(m)</text>
<text transform="translate(1294 752.99) rotate(-90) scale(0.9931 1)" font-size="36.11">Max Position Error(m)</text>
</g>
</svg></body></html>
